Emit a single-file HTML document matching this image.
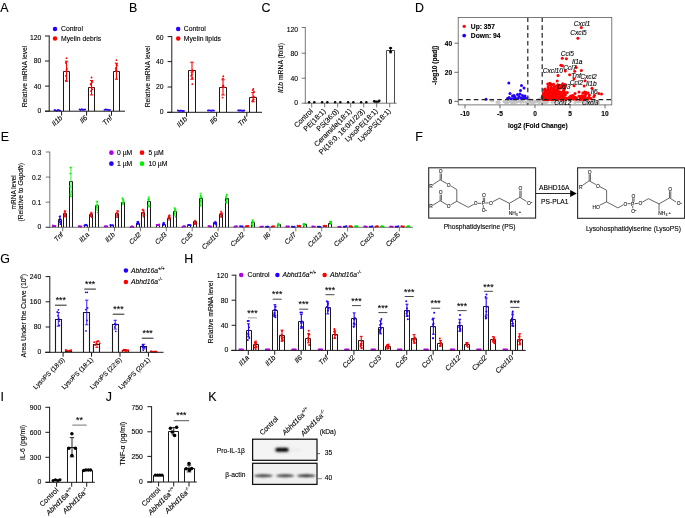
<!DOCTYPE html>
<html lang="en">
<head>
<meta charset="utf-8">
<title>Figure</title>
<style>html,body{margin:0;padding:0;background:#fff}body{width:685px;height:518px;overflow:hidden}svg text{stroke:#000;stroke-width:.14px;stroke-opacity:.8}</style>
</head>
<body>
<svg width="685" height="518" viewBox="0 0 685 518" font-family='"Liberation Sans", sans-serif' style="display:block">
<rect width="685" height="518" fill="#fff"/>
<g>
<text x="0.3" y="12.2" font-size="12.4">A</text>
<circle cx="55" cy="29" r="2.25" fill="#2000ff"/>
<circle cx="55" cy="38.6" r="2.25" fill="#ff0000"/>
<text x="61" y="31.2" font-size="6.8">Control</text>
<text x="61" y="40.8" font-size="6.8">Myelin debris</text>
<text transform="translate(27.4 76.5) rotate(-90)" font-size="6.7" text-anchor="middle" textLength="61.6" lengthAdjust="spacingAndGlyphs">Relative mRNA level</text>
<path d="M63.5 111.2V71.5H69.5V111.2" fill="#fff" stroke="#1a1a1a" stroke-width="1"/>
<line x1="66.55" y1="61.2" x2="66.55" y2="81.2" stroke="#ff0000" stroke-width="1.1"/>
<line x1="64.95" y1="61.2" x2="68.15" y2="61.2" stroke="#ff0000" stroke-width="1.1"/>
<line x1="64.95" y1="81.2" x2="68.15" y2="81.2" stroke="#ff0000" stroke-width="1.1"/>
<line x1="64.85" y1="71.2" x2="68.25" y2="71.2" stroke="#ff0000" stroke-width="1"/>
<circle cx="66.82" cy="68.9" r="0.9" fill="#ff0000"/>
<circle cx="65.78" cy="75.8" r="0.9" fill="#ff0000"/>
<circle cx="65.75" cy="62.83" r="0.9" fill="#ff0000"/>
<circle cx="66.56" cy="69.28" r="0.9" fill="#ff0000"/>
<circle cx="65.78" cy="80.53" r="0.9" fill="#ff0000"/>
<circle cx="66.55" cy="58.2" r="0.9" fill="#ff0000"/>
<circle cx="54.6" cy="109.96" r="0.95" fill="#2000ff"/>
<circle cx="55.7" cy="110.36" r="0.95" fill="#2000ff"/>
<circle cx="56.8" cy="110.84" r="0.95" fill="#2000ff"/>
<circle cx="57.9" cy="110" r="0.95" fill="#2000ff"/>
<circle cx="59" cy="110.12" r="0.95" fill="#2000ff"/>
<circle cx="60.1" cy="110.6" r="0.95" fill="#2000ff"/>
<line x1="61.6" y1="111.2" x2="61.6" y2="115.6" stroke="#1a1a1a" stroke-width="1"/>
<text transform="translate(62.8 118.4) rotate(-45)" font-size="7.2" font-style="italic" text-anchor="end">Il1b</text>
<path d="M88.5 111.2V87.5H94.5V111.2" fill="#fff" stroke="#1a1a1a" stroke-width="1"/>
<line x1="91.55" y1="80.5" x2="91.55" y2="94.9" stroke="#ff0000" stroke-width="1.1"/>
<line x1="89.95" y1="80.5" x2="93.15" y2="80.5" stroke="#ff0000" stroke-width="1.1"/>
<line x1="89.95" y1="94.9" x2="93.15" y2="94.9" stroke="#ff0000" stroke-width="1.1"/>
<line x1="89.85" y1="87.7" x2="93.25" y2="87.7" stroke="#ff0000" stroke-width="1"/>
<circle cx="92.36" cy="89.31" r="0.9" fill="#ff0000"/>
<circle cx="92.41" cy="81.94" r="0.9" fill="#ff0000"/>
<circle cx="90.73" cy="84.67" r="0.9" fill="#ff0000"/>
<circle cx="90.91" cy="91.08" r="0.9" fill="#ff0000"/>
<circle cx="90.86" cy="83.54" r="0.9" fill="#ff0000"/>
<circle cx="91.55" cy="77.5" r="0.9" fill="#ff0000"/>
<circle cx="79.6" cy="109.41" r="0.95" fill="#2000ff"/>
<circle cx="80.7" cy="110.02" r="0.95" fill="#2000ff"/>
<circle cx="81.8" cy="109.25" r="0.95" fill="#2000ff"/>
<circle cx="82.9" cy="109.74" r="0.95" fill="#2000ff"/>
<circle cx="84" cy="109.8" r="0.95" fill="#2000ff"/>
<circle cx="85.1" cy="109.48" r="0.95" fill="#2000ff"/>
<line x1="86.6" y1="111.2" x2="86.6" y2="115.6" stroke="#1a1a1a" stroke-width="1"/>
<text transform="translate(87.8 118.4) rotate(-45)" font-size="7.2" font-style="italic" text-anchor="end">Il6</text>
<path d="M113.5 111.2V71.5H119.5V111.2" fill="#fff" stroke="#1a1a1a" stroke-width="1"/>
<line x1="116.45" y1="63.2" x2="116.45" y2="79.2" stroke="#ff0000" stroke-width="1.1"/>
<line x1="114.85" y1="63.2" x2="118.05" y2="63.2" stroke="#ff0000" stroke-width="1.1"/>
<line x1="114.85" y1="79.2" x2="118.05" y2="79.2" stroke="#ff0000" stroke-width="1.1"/>
<line x1="114.75" y1="71.2" x2="118.15" y2="71.2" stroke="#ff0000" stroke-width="1"/>
<circle cx="115.66" cy="68.72" r="0.9" fill="#ff0000"/>
<circle cx="115.92" cy="70.43" r="0.9" fill="#ff0000"/>
<circle cx="116.12" cy="67.98" r="0.9" fill="#ff0000"/>
<circle cx="116.6" cy="64.31" r="0.9" fill="#ff0000"/>
<circle cx="116.98" cy="65.38" r="0.9" fill="#ff0000"/>
<circle cx="116.45" cy="60.2" r="0.9" fill="#ff0000"/>
<circle cx="104.5" cy="109.88" r="0.95" fill="#2000ff"/>
<circle cx="105.6" cy="109.33" r="0.95" fill="#2000ff"/>
<circle cx="106.7" cy="109.73" r="0.95" fill="#2000ff"/>
<circle cx="107.8" cy="109.67" r="0.95" fill="#2000ff"/>
<circle cx="108.9" cy="110.09" r="0.95" fill="#2000ff"/>
<circle cx="110" cy="109.91" r="0.95" fill="#2000ff"/>
<line x1="111.5" y1="111.2" x2="111.5" y2="115.6" stroke="#1a1a1a" stroke-width="1"/>
<text transform="translate(112.7 118.4) rotate(-45)" font-size="7.2" font-style="italic" text-anchor="end">Tnf</text>
<line x1="45" y1="111.2" x2="125" y2="111.2" stroke="#1a1a1a" stroke-width="1"/>
<line x1="49.2" y1="35.5" x2="49.2" y2="111.7" stroke="#1a1a1a" stroke-width="1"/>
<line x1="45" y1="36" x2="49.2" y2="36" stroke="#1a1a1a" stroke-width="1"/>
<text x="41.4" y="39.65" font-size="6.8" text-anchor="end">120</text>
<line x1="45" y1="61" x2="49.2" y2="61" stroke="#1a1a1a" stroke-width="1"/>
<text x="41.4" y="63.45" font-size="6.8" text-anchor="end">80</text>
<line x1="45" y1="86.1" x2="49.2" y2="86.1" stroke="#1a1a1a" stroke-width="1"/>
<text x="41.4" y="88.55" font-size="6.8" text-anchor="end">40</text>
<line x1="45" y1="111.2" x2="49.2" y2="111.2" stroke="#1a1a1a" stroke-width="1"/>
<text x="41.4" y="112.65" font-size="6.8" text-anchor="end">0</text>
</g>
<g>
<text x="129" y="12.2" font-size="12.4">B</text>
<circle cx="178.2" cy="29" r="2.25" fill="#2000ff"/>
<circle cx="178.2" cy="38.6" r="2.25" fill="#ff0000"/>
<text x="183.8" y="31.2" font-size="6.8">Control</text>
<text x="183.8" y="40.8" font-size="6.8">Myelin lipids</text>
<text transform="translate(150.1 76.5) rotate(-90)" font-size="6.7" text-anchor="middle" textLength="61.6" lengthAdjust="spacingAndGlyphs">Relative mRNA level</text>
<path d="M188.5 112.3V70.5H195.5V112.3" fill="#fff" stroke="#1a1a1a" stroke-width="1"/>
<line x1="192" y1="62.22" x2="192" y2="79.22" stroke="#ff0000" stroke-width="1.1"/>
<line x1="190.3" y1="62.22" x2="193.7" y2="62.22" stroke="#ff0000" stroke-width="1.1"/>
<line x1="190.3" y1="79.22" x2="193.7" y2="79.22" stroke="#ff0000" stroke-width="1.1"/>
<line x1="190.2" y1="70.72" x2="193.8" y2="70.72" stroke="#ff0000" stroke-width="1"/>
<circle cx="191.58" cy="72.59" r="0.9" fill="#ff0000"/>
<circle cx="191.84" cy="74.53" r="0.9" fill="#ff0000"/>
<circle cx="192.51" cy="70.24" r="0.9" fill="#ff0000"/>
<circle cx="191.08" cy="75.84" r="0.9" fill="#ff0000"/>
<circle cx="192.34" cy="77.96" r="0.9" fill="#ff0000"/>
<circle cx="192.75" cy="71.63" r="0.9" fill="#ff0000"/>
<circle cx="192.3" cy="84.22" r="0.9" fill="#ff0000"/>
<circle cx="177.9" cy="110.55" r="0.95" fill="#2000ff"/>
<circle cx="178.9" cy="110.86" r="0.95" fill="#2000ff"/>
<circle cx="179.9" cy="110.78" r="0.95" fill="#2000ff"/>
<circle cx="180.9" cy="110.76" r="0.95" fill="#2000ff"/>
<circle cx="181.9" cy="110.66" r="0.95" fill="#2000ff"/>
<circle cx="182.9" cy="110.97" r="0.95" fill="#2000ff"/>
<circle cx="183.9" cy="111.06" r="0.95" fill="#2000ff"/>
<line x1="186.5" y1="112.3" x2="186.5" y2="116.7" stroke="#1a1a1a" stroke-width="1"/>
<text transform="translate(187.7 119.5) rotate(-45)" font-size="7.2" font-style="italic" text-anchor="end">Il1b</text>
<path d="M219.5 112.3V87.5H226.5V112.3" fill="#fff" stroke="#1a1a1a" stroke-width="1"/>
<line x1="223" y1="79.75" x2="223" y2="94.95" stroke="#ff0000" stroke-width="1.1"/>
<line x1="221.3" y1="79.75" x2="224.7" y2="79.75" stroke="#ff0000" stroke-width="1.1"/>
<line x1="221.3" y1="94.95" x2="224.7" y2="94.95" stroke="#ff0000" stroke-width="1.1"/>
<line x1="221.2" y1="87.35" x2="224.8" y2="87.35" stroke="#ff0000" stroke-width="1"/>
<circle cx="222.95" cy="78.47" r="0.9" fill="#ff0000"/>
<circle cx="223.4" cy="86.11" r="0.9" fill="#ff0000"/>
<circle cx="223.29" cy="85.28" r="0.9" fill="#ff0000"/>
<circle cx="222.57" cy="97.61" r="0.9" fill="#ff0000"/>
<circle cx="222.77" cy="86.8" r="0.9" fill="#ff0000"/>
<circle cx="222.92" cy="86.64" r="0.9" fill="#ff0000"/>
<circle cx="223.3" cy="76.15" r="0.9" fill="#ff0000"/>
<circle cx="208" cy="110.43" r="0.95" fill="#2000ff"/>
<circle cx="209" cy="110.39" r="0.95" fill="#2000ff"/>
<circle cx="210" cy="110.35" r="0.95" fill="#2000ff"/>
<circle cx="211" cy="110.91" r="0.95" fill="#2000ff"/>
<circle cx="212" cy="110.4" r="0.95" fill="#2000ff"/>
<circle cx="213" cy="110.5" r="0.95" fill="#2000ff"/>
<circle cx="214" cy="110.61" r="0.95" fill="#2000ff"/>
<line x1="216.6" y1="112.3" x2="216.6" y2="116.7" stroke="#1a1a1a" stroke-width="1"/>
<text transform="translate(217.8 119.5) rotate(-45)" font-size="7.2" font-style="italic" text-anchor="end">Il6</text>
<path d="M249.5 112.3V97.5H256.5V112.3" fill="#fff" stroke="#1a1a1a" stroke-width="1"/>
<line x1="253" y1="92.58" x2="253" y2="101.78" stroke="#ff0000" stroke-width="1.1"/>
<line x1="251.3" y1="92.58" x2="254.7" y2="92.58" stroke="#ff0000" stroke-width="1.1"/>
<line x1="251.3" y1="101.78" x2="254.7" y2="101.78" stroke="#ff0000" stroke-width="1.1"/>
<line x1="251.2" y1="97.18" x2="254.8" y2="97.18" stroke="#ff0000" stroke-width="1"/>
<circle cx="253.74" cy="96.41" r="0.9" fill="#ff0000"/>
<circle cx="253.1" cy="101.13" r="0.9" fill="#ff0000"/>
<circle cx="253.77" cy="99.37" r="0.9" fill="#ff0000"/>
<circle cx="252.56" cy="100.67" r="0.9" fill="#ff0000"/>
<circle cx="252.83" cy="90.14" r="0.9" fill="#ff0000"/>
<circle cx="253.92" cy="91.75" r="0.9" fill="#ff0000"/>
<circle cx="253.3" cy="88.98" r="0.9" fill="#ff0000"/>
<circle cx="238.2" cy="110.42" r="0.95" fill="#2000ff"/>
<circle cx="239.2" cy="110.44" r="0.95" fill="#2000ff"/>
<circle cx="240.2" cy="110.49" r="0.95" fill="#2000ff"/>
<circle cx="241.2" cy="110.49" r="0.95" fill="#2000ff"/>
<circle cx="242.2" cy="110.69" r="0.95" fill="#2000ff"/>
<circle cx="243.2" cy="110.77" r="0.95" fill="#2000ff"/>
<circle cx="244.2" cy="110.51" r="0.95" fill="#2000ff"/>
<line x1="246.8" y1="112.3" x2="246.8" y2="116.7" stroke="#1a1a1a" stroke-width="1"/>
<text transform="translate(248 119.5) rotate(-45)" font-size="7.2" font-style="italic" text-anchor="end">Tnf</text>
<line x1="167" y1="112.3" x2="262" y2="112.3" stroke="#1a1a1a" stroke-width="1"/>
<line x1="171.8" y1="36.1" x2="171.8" y2="112.8" stroke="#1a1a1a" stroke-width="1"/>
<line x1="167.6" y1="36.6" x2="171.8" y2="36.6" stroke="#1a1a1a" stroke-width="1"/>
<text x="163.6" y="39.65" font-size="6.8" text-anchor="end">60</text>
<line x1="167.6" y1="61.6" x2="171.8" y2="61.6" stroke="#1a1a1a" stroke-width="1"/>
<text x="163.6" y="64.05" font-size="6.8" text-anchor="end">40</text>
<line x1="167.6" y1="87" x2="171.8" y2="87" stroke="#1a1a1a" stroke-width="1"/>
<text x="163.6" y="89.45" font-size="6.8" text-anchor="end">20</text>
<line x1="167.6" y1="112.3" x2="171.8" y2="112.3" stroke="#1a1a1a" stroke-width="1"/>
<text x="163.6" y="113.75" font-size="6.8" text-anchor="end">0</text>
</g>
<g>
<text x="261.6" y="12.2" font-size="12.4">C</text>
<line x1="311.7" y1="103.2" x2="311.7" y2="107.4" stroke="#3c3c3c" stroke-width="0.7"/>
<text transform="translate(313.3 111.6) rotate(-45)" font-size="7.2" text-anchor="end">Control</text>
<circle cx="309.1" cy="102.2" r="1.25" fill="#000"/>
<circle cx="314.3" cy="102.2" r="1.25" fill="#000"/>
<line x1="324.7" y1="103.2" x2="324.7" y2="107.4" stroke="#3c3c3c" stroke-width="0.7"/>
<text transform="translate(326.3 111.6) rotate(-45)" font-size="7.2" text-anchor="end">PE(18:1)</text>
<circle cx="322.1" cy="102.2" r="1.25" fill="#000"/>
<circle cx="327.3" cy="102.2" r="1.25" fill="#000"/>
<line x1="337.7" y1="103.2" x2="337.7" y2="107.4" stroke="#3c3c3c" stroke-width="0.7"/>
<text transform="translate(339.3 111.6) rotate(-45)" font-size="7.2" text-anchor="end">PS(36:0)</text>
<circle cx="335.1" cy="102.2" r="1.25" fill="#000"/>
<circle cx="340.3" cy="102.2" r="1.25" fill="#000"/>
<line x1="350.7" y1="103.2" x2="350.7" y2="107.4" stroke="#3c3c3c" stroke-width="0.7"/>
<text transform="translate(352.3 111.6) rotate(-45)" font-size="7.2" text-anchor="end">Ceramide(18:1)</text>
<circle cx="348.1" cy="102.2" r="1.25" fill="#000"/>
<circle cx="353.3" cy="102.2" r="1.25" fill="#000"/>
<line x1="363.7" y1="103.2" x2="363.7" y2="107.4" stroke="#3c3c3c" stroke-width="0.7"/>
<text transform="translate(365.3 111.6) rotate(-45)" font-size="7.2" text-anchor="end">PI(16:0, 18:0/1/2/3)</text>
<circle cx="361.1" cy="102.2" r="1.25" fill="#000"/>
<circle cx="366.3" cy="102.2" r="1.25" fill="#000"/>
<line x1="376.7" y1="103.2" x2="376.7" y2="107.4" stroke="#3c3c3c" stroke-width="0.7"/>
<text transform="translate(378.3 111.6) rotate(-45)" font-size="7.2" text-anchor="end">LysoPE(18:1)</text>
<circle cx="374.1" cy="101.2" r="1.25" fill="#000"/>
<circle cx="379.3" cy="100.7" r="1.25" fill="#000"/>
<rect x="374.1" y="100.6" width="5.2" height="2.2" fill="#000" stroke="none" stroke-width="0"/>
<line x1="389.7" y1="103.2" x2="389.7" y2="107.4" stroke="#3c3c3c" stroke-width="0.7"/>
<text transform="translate(391.3 111.6) rotate(-45)" font-size="7.2" text-anchor="end">LysoPS(18:1)</text>
<path d="M386.5 103.2V50.5H394.5V103.2" fill="#fff" stroke="#4a4a4a" stroke-width="1"/>
<line x1="390.6" y1="47.6" x2="390.6" y2="52.8" stroke="#000" stroke-width="0.9"/>
<line x1="389.1" y1="47.6" x2="392.1" y2="47.6" stroke="#000" stroke-width="0.9"/>
<line x1="389.1" y1="52.8" x2="392.1" y2="52.8" stroke="#000" stroke-width="0.9"/>
<path d="M390.6 46.4l1.8 2.6h-3.6z M390.6 53.6l1.8 -2.6h-3.6z" fill="#000"/>
<line x1="304.8" y1="103.2" x2="396.6" y2="103.2" stroke="#3c3c3c" stroke-width="0.7"/>
<line x1="305.3" y1="27.15" x2="305.3" y2="103.55" stroke="#3c3c3c" stroke-width="0.7"/>
<line x1="301.7" y1="27.5" x2="305.3" y2="27.5" stroke="#3c3c3c" stroke-width="0.7"/>
<text x="298.1" y="32.15" font-size="6.8" text-anchor="end">120</text>
<line x1="301.7" y1="53.2" x2="305.3" y2="53.2" stroke="#3c3c3c" stroke-width="0.7"/>
<text x="298.1" y="55.65" font-size="6.8" text-anchor="end">80</text>
<line x1="301.7" y1="78.2" x2="305.3" y2="78.2" stroke="#3c3c3c" stroke-width="0.7"/>
<text x="298.1" y="80.65" font-size="6.8" text-anchor="end">40</text>
<line x1="301.7" y1="103.2" x2="305.3" y2="103.2" stroke="#3c3c3c" stroke-width="0.7"/>
<text x="298.1" y="105.25" font-size="6.8" text-anchor="end">0</text>
<text transform="translate(283 68) rotate(-90)" font-size="6.7" text-anchor="middle" textLength="49.8" lengthAdjust="spacingAndGlyphs"><tspan font-style="italic">Il1b</tspan> mRNA (fold)</text>
</g>
<g>
<text x="415" y="12.2" font-size="12.4">D</text>
<circle cx="523" cy="102.08" r="1.5" fill="#c4c4c4"/>
<circle cx="592.72" cy="101.95" r="1.5" fill="#c4c4c4"/>
<circle cx="552.75" cy="102.12" r="1.5" fill="#c4c4c4"/>
<circle cx="511.76" cy="102.02" r="1.5" fill="#c4c4c4"/>
<circle cx="564.47" cy="102.41" r="1.5" fill="#c4c4c4"/>
<circle cx="513.04" cy="101.72" r="1.5" fill="#c4c4c4"/>
<circle cx="507.81" cy="102.43" r="1.5" fill="#c4c4c4"/>
<circle cx="570.57" cy="101.36" r="1.5" fill="#c4c4c4"/>
<circle cx="598.29" cy="102.65" r="1.5" fill="#c4c4c4"/>
<circle cx="531.46" cy="102.16" r="1.5" fill="#c4c4c4"/>
<circle cx="519.12" cy="101.32" r="1.5" fill="#c4c4c4"/>
<circle cx="554.72" cy="101.38" r="1.5" fill="#c4c4c4"/>
<circle cx="511.99" cy="101.64" r="1.5" fill="#c4c4c4"/>
<circle cx="506.89" cy="101.95" r="1.5" fill="#c4c4c4"/>
<circle cx="546.29" cy="102.48" r="1.5" fill="#c4c4c4"/>
<circle cx="525.8" cy="102.2" r="1.5" fill="#c4c4c4"/>
<circle cx="551.98" cy="102.23" r="1.5" fill="#c4c4c4"/>
<circle cx="547.9" cy="101.69" r="1.5" fill="#c4c4c4"/>
<circle cx="545.9" cy="102.69" r="1.5" fill="#c4c4c4"/>
<circle cx="584.66" cy="102.29" r="1.5" fill="#c4c4c4"/>
<circle cx="534.27" cy="101.62" r="1.5" fill="#c4c4c4"/>
<circle cx="516.14" cy="101.4" r="1.5" fill="#c4c4c4"/>
<circle cx="577.56" cy="101.86" r="1.5" fill="#c4c4c4"/>
<circle cx="585.27" cy="101.84" r="1.5" fill="#c4c4c4"/>
<circle cx="544.24" cy="102.49" r="1.5" fill="#c4c4c4"/>
<circle cx="504.05" cy="101.59" r="1.5" fill="#c4c4c4"/>
<circle cx="591.39" cy="101.96" r="1.5" fill="#c4c4c4"/>
<circle cx="545.18" cy="101.86" r="1.5" fill="#c4c4c4"/>
<circle cx="511.01" cy="102.18" r="1.5" fill="#c4c4c4"/>
<circle cx="578.74" cy="101.68" r="1.5" fill="#c4c4c4"/>
<circle cx="507.66" cy="101.77" r="1.5" fill="#c4c4c4"/>
<circle cx="596.55" cy="102.36" r="1.5" fill="#c4c4c4"/>
<circle cx="515.33" cy="101.64" r="1.5" fill="#c4c4c4"/>
<circle cx="508.24" cy="101.38" r="1.5" fill="#c4c4c4"/>
<circle cx="580.51" cy="101.55" r="1.5" fill="#c4c4c4"/>
<circle cx="557.69" cy="101.93" r="1.5" fill="#c4c4c4"/>
<circle cx="512.01" cy="102.32" r="1.5" fill="#c4c4c4"/>
<circle cx="516.57" cy="102.2" r="1.5" fill="#c4c4c4"/>
<circle cx="515.18" cy="101.89" r="1.5" fill="#c4c4c4"/>
<circle cx="512.94" cy="101.68" r="1.5" fill="#c4c4c4"/>
<circle cx="597.21" cy="102.42" r="1.5" fill="#c4c4c4"/>
<circle cx="533.2" cy="102.54" r="1.5" fill="#c4c4c4"/>
<circle cx="512.85" cy="101.85" r="1.5" fill="#c4c4c4"/>
<circle cx="586.02" cy="102.2" r="1.5" fill="#c4c4c4"/>
<circle cx="513.63" cy="102.69" r="1.5" fill="#c4c4c4"/>
<circle cx="512.96" cy="101.66" r="1.5" fill="#c4c4c4"/>
<circle cx="578.18" cy="101.76" r="1.5" fill="#c4c4c4"/>
<circle cx="532.45" cy="101.4" r="1.5" fill="#c4c4c4"/>
<circle cx="507.78" cy="102.12" r="1.5" fill="#c4c4c4"/>
<circle cx="527.33" cy="102.14" r="1.5" fill="#c4c4c4"/>
<circle cx="539.68" cy="101.93" r="1.5" fill="#c4c4c4"/>
<circle cx="544.28" cy="101.98" r="1.5" fill="#c4c4c4"/>
<circle cx="559.16" cy="102.51" r="1.5" fill="#c4c4c4"/>
<circle cx="521.55" cy="101.52" r="1.5" fill="#c4c4c4"/>
<circle cx="542.15" cy="102.44" r="1.5" fill="#c4c4c4"/>
<circle cx="527.95" cy="101.57" r="1.5" fill="#c4c4c4"/>
<circle cx="574.98" cy="102.62" r="1.5" fill="#c4c4c4"/>
<circle cx="512.26" cy="102.63" r="1.5" fill="#c4c4c4"/>
<circle cx="588.69" cy="102.14" r="1.5" fill="#c4c4c4"/>
<circle cx="544.46" cy="101.45" r="1.5" fill="#c4c4c4"/>
<circle cx="505.63" cy="102.65" r="1.5" fill="#c4c4c4"/>
<circle cx="526.89" cy="102.29" r="1.5" fill="#c4c4c4"/>
<circle cx="528.67" cy="102.45" r="1.5" fill="#c4c4c4"/>
<circle cx="529.05" cy="101.71" r="1.5" fill="#c4c4c4"/>
<circle cx="520.84" cy="102.31" r="1.5" fill="#c4c4c4"/>
<circle cx="510.6" cy="101.62" r="1.5" fill="#c4c4c4"/>
<circle cx="527.49" cy="102.49" r="1.5" fill="#c4c4c4"/>
<circle cx="562.97" cy="101.69" r="1.5" fill="#c4c4c4"/>
<circle cx="592.07" cy="101.59" r="1.5" fill="#c4c4c4"/>
<circle cx="504.7" cy="101.68" r="1.5" fill="#c4c4c4"/>
<circle cx="546.79" cy="101.38" r="1.5" fill="#c4c4c4"/>
<circle cx="520.92" cy="101.82" r="1.5" fill="#c4c4c4"/>
<circle cx="528.03" cy="101.48" r="1.5" fill="#c4c4c4"/>
<circle cx="538.77" cy="102.55" r="1.5" fill="#c4c4c4"/>
<circle cx="598.13" cy="102.22" r="1.5" fill="#c4c4c4"/>
<circle cx="537.68" cy="100.89" r="1.5" fill="#c4c4c4"/>
<circle cx="529.96" cy="101.88" r="1.5" fill="#c4c4c4"/>
<circle cx="528.25" cy="97.66" r="1.5" fill="#c4c4c4"/>
<circle cx="537.81" cy="100.09" r="1.5" fill="#c4c4c4"/>
<circle cx="528.3" cy="98.99" r="1.5" fill="#c4c4c4"/>
<circle cx="534.75" cy="101.87" r="1.5" fill="#c4c4c4"/>
<circle cx="532.46" cy="100.21" r="1.5" fill="#c4c4c4"/>
<circle cx="529.05" cy="99.71" r="1.5" fill="#c4c4c4"/>
<circle cx="538.32" cy="99.89" r="1.5" fill="#c4c4c4"/>
<circle cx="538.32" cy="100.35" r="1.5" fill="#c4c4c4"/>
<circle cx="539.11" cy="99.35" r="1.5" fill="#c4c4c4"/>
<circle cx="532.93" cy="101" r="1.5" fill="#c4c4c4"/>
<circle cx="540.61" cy="98.55" r="1.5" fill="#c4c4c4"/>
<circle cx="533.84" cy="101.35" r="1.5" fill="#c4c4c4"/>
<circle cx="540.09" cy="99.94" r="1.5" fill="#c4c4c4"/>
<circle cx="536.75" cy="101.53" r="1.5" fill="#c4c4c4"/>
<circle cx="536.16" cy="101.5" r="1.5" fill="#c4c4c4"/>
<circle cx="529.12" cy="99.34" r="1.5" fill="#c4c4c4"/>
<circle cx="541.91" cy="97.71" r="1.5" fill="#c4c4c4"/>
<circle cx="538.19" cy="101.12" r="1.5" fill="#c4c4c4"/>
<circle cx="538.29" cy="100.65" r="1.5" fill="#c4c4c4"/>
<circle cx="534.17" cy="101.51" r="1.5" fill="#c4c4c4"/>
<circle cx="529.17" cy="98.91" r="1.5" fill="#c4c4c4"/>
<circle cx="528.42" cy="99.2" r="1.5" fill="#c4c4c4"/>
<circle cx="534.73" cy="101.96" r="1.5" fill="#c4c4c4"/>
<circle cx="537.78" cy="101.02" r="1.5" fill="#c4c4c4"/>
<circle cx="536.6" cy="100.96" r="1.5" fill="#c4c4c4"/>
<circle cx="531.58" cy="101.97" r="1.5" fill="#c4c4c4"/>
<circle cx="532.21" cy="100.67" r="1.5" fill="#c4c4c4"/>
<circle cx="530.84" cy="101.5" r="1.5" fill="#c4c4c4"/>
<circle cx="540.68" cy="99.35" r="1.5" fill="#c4c4c4"/>
<circle cx="534.19" cy="101.49" r="1.5" fill="#c4c4c4"/>
<circle cx="532.58" cy="100.86" r="1.5" fill="#c4c4c4"/>
<circle cx="530.78" cy="100.71" r="1.5" fill="#c4c4c4"/>
<circle cx="539.28" cy="99.23" r="1.5" fill="#c4c4c4"/>
<circle cx="540.32" cy="100.55" r="1.5" fill="#c4c4c4"/>
<circle cx="536.16" cy="101.74" r="1.5" fill="#c4c4c4"/>
<circle cx="529.91" cy="100.21" r="1.5" fill="#c4c4c4"/>
<circle cx="539.72" cy="99.17" r="1.5" fill="#c4c4c4"/>
<circle cx="537.96" cy="100.01" r="1.5" fill="#c4c4c4"/>
<circle cx="531.88" cy="101.63" r="1.5" fill="#c4c4c4"/>
<circle cx="534.31" cy="101.87" r="1.5" fill="#c4c4c4"/>
<circle cx="531" cy="100.83" r="1.5" fill="#c4c4c4"/>
<circle cx="536.76" cy="101.39" r="1.5" fill="#c4c4c4"/>
<circle cx="532.42" cy="100.47" r="1.5" fill="#c4c4c4"/>
<circle cx="491.2" cy="100.3" r="1.5" fill="#c4c4c4"/>
<circle cx="492.8" cy="100.6" r="1.5" fill="#c4c4c4"/>
<circle cx="497" cy="102.2" r="1.5" fill="#c4c4c4"/>
<circle cx="499" cy="102.6" r="1.5" fill="#c4c4c4"/>
<circle cx="508.8" cy="83" r="1.5" fill="#2000ff"/>
<circle cx="521.5" cy="85.5" r="1.5" fill="#2000ff"/>
<circle cx="524" cy="88" r="1.5" fill="#2000ff"/>
<circle cx="520.5" cy="90.5" r="1.5" fill="#2000ff"/>
<circle cx="486" cy="99.3" r="1.5" fill="#2000ff"/>
<circle cx="510" cy="93.5" r="1.5" fill="#2000ff"/>
<circle cx="512.5" cy="96" r="1.5" fill="#2000ff"/>
<circle cx="509" cy="97.5" r="1.5" fill="#2000ff"/>
<circle cx="515" cy="97" r="1.5" fill="#2000ff"/>
<circle cx="517.5" cy="94.5" r="1.5" fill="#2000ff"/>
<circle cx="519" cy="96.5" r="1.5" fill="#2000ff"/>
<circle cx="521" cy="98" r="1.5" fill="#2000ff"/>
<circle cx="522.5" cy="95.5" r="1.5" fill="#2000ff"/>
<circle cx="524.5" cy="97" r="1.5" fill="#2000ff"/>
<circle cx="526" cy="98.3" r="1.5" fill="#2000ff"/>
<circle cx="513.5" cy="98.4" r="1.5" fill="#2000ff"/>
<circle cx="511" cy="98.8" r="1.5" fill="#2000ff"/>
<circle cx="518" cy="98.6" r="1.5" fill="#2000ff"/>
<circle cx="520" cy="94" r="1.5" fill="#2000ff"/>
<circle cx="523" cy="98.5" r="1.5" fill="#2000ff"/>
<circle cx="516" cy="98.8" r="1.5" fill="#2000ff"/>
<circle cx="507.5" cy="98.6" r="1.5" fill="#2000ff"/>
<circle cx="525" cy="96" r="1.5" fill="#2000ff"/>
<circle cx="514" cy="95.5" r="1.5" fill="#2000ff"/>
<circle cx="576.19" cy="99.31" r="1.5" fill="#ff0000"/>
<circle cx="562.16" cy="99.25" r="1.5" fill="#ff0000"/>
<circle cx="549.14" cy="89.93" r="1.5" fill="#ff0000"/>
<circle cx="552.51" cy="99.36" r="1.5" fill="#ff0000"/>
<circle cx="545.25" cy="99.21" r="1.5" fill="#ff0000"/>
<circle cx="556.55" cy="93" r="1.5" fill="#ff0000"/>
<circle cx="581.87" cy="98.93" r="1.5" fill="#ff0000"/>
<circle cx="546.13" cy="99.44" r="1.5" fill="#ff0000"/>
<circle cx="544.89" cy="98.27" r="1.5" fill="#ff0000"/>
<circle cx="548.04" cy="97.37" r="1.5" fill="#ff0000"/>
<circle cx="559.47" cy="96.45" r="1.5" fill="#ff0000"/>
<circle cx="567.24" cy="92.44" r="1.5" fill="#ff0000"/>
<circle cx="548.33" cy="96.65" r="1.5" fill="#ff0000"/>
<circle cx="574.33" cy="97.31" r="1.5" fill="#ff0000"/>
<circle cx="584.62" cy="92.09" r="1.5" fill="#ff0000"/>
<circle cx="557.05" cy="98.11" r="1.5" fill="#ff0000"/>
<circle cx="580.82" cy="96.2" r="1.5" fill="#ff0000"/>
<circle cx="562.79" cy="83.86" r="1.5" fill="#ff0000"/>
<circle cx="560.27" cy="97.15" r="1.5" fill="#ff0000"/>
<circle cx="573.64" cy="99.28" r="1.5" fill="#ff0000"/>
<circle cx="554.71" cy="90.57" r="1.5" fill="#ff0000"/>
<circle cx="560.69" cy="99.1" r="1.5" fill="#ff0000"/>
<circle cx="549.74" cy="90.03" r="1.5" fill="#ff0000"/>
<circle cx="553.93" cy="91.65" r="1.5" fill="#ff0000"/>
<circle cx="548.73" cy="91.03" r="1.5" fill="#ff0000"/>
<circle cx="563.93" cy="98.96" r="1.5" fill="#ff0000"/>
<circle cx="548.7" cy="91.53" r="1.5" fill="#ff0000"/>
<circle cx="561.49" cy="94.49" r="1.5" fill="#ff0000"/>
<circle cx="561.53" cy="86.1" r="1.5" fill="#ff0000"/>
<circle cx="588.83" cy="97.56" r="1.5" fill="#ff0000"/>
<circle cx="546.64" cy="94.82" r="1.5" fill="#ff0000"/>
<circle cx="542.64" cy="95.9" r="1.5" fill="#ff0000"/>
<circle cx="560.5" cy="94.45" r="1.5" fill="#ff0000"/>
<circle cx="551.57" cy="97.95" r="1.5" fill="#ff0000"/>
<circle cx="587.72" cy="98.69" r="1.5" fill="#ff0000"/>
<circle cx="544.93" cy="96.03" r="1.5" fill="#ff0000"/>
<circle cx="576.78" cy="98.51" r="1.5" fill="#ff0000"/>
<circle cx="556.27" cy="86.33" r="1.5" fill="#ff0000"/>
<circle cx="546.2" cy="99.44" r="1.5" fill="#ff0000"/>
<circle cx="547.25" cy="92.41" r="1.5" fill="#ff0000"/>
<circle cx="556.32" cy="98.83" r="1.5" fill="#ff0000"/>
<circle cx="553.79" cy="97.75" r="1.5" fill="#ff0000"/>
<circle cx="552.09" cy="96.63" r="1.5" fill="#ff0000"/>
<circle cx="545.69" cy="98.11" r="1.5" fill="#ff0000"/>
<circle cx="558.12" cy="96.76" r="1.5" fill="#ff0000"/>
<circle cx="570.8" cy="95.97" r="1.5" fill="#ff0000"/>
<circle cx="587.22" cy="98.51" r="1.5" fill="#ff0000"/>
<circle cx="563.32" cy="98" r="1.5" fill="#ff0000"/>
<circle cx="568.38" cy="98.79" r="1.5" fill="#ff0000"/>
<circle cx="545.03" cy="98.63" r="1.5" fill="#ff0000"/>
<circle cx="561.22" cy="96.16" r="1.5" fill="#ff0000"/>
<circle cx="551.3" cy="92.45" r="1.5" fill="#ff0000"/>
<circle cx="557.76" cy="84.7" r="1.5" fill="#ff0000"/>
<circle cx="553.68" cy="90.83" r="1.5" fill="#ff0000"/>
<circle cx="543.2" cy="99.18" r="1.5" fill="#ff0000"/>
<circle cx="554.74" cy="95.09" r="1.5" fill="#ff0000"/>
<circle cx="546.26" cy="98.11" r="1.5" fill="#ff0000"/>
<circle cx="587.81" cy="99.25" r="1.5" fill="#ff0000"/>
<circle cx="563.98" cy="95.72" r="1.5" fill="#ff0000"/>
<circle cx="552.79" cy="95.08" r="1.5" fill="#ff0000"/>
<circle cx="542.31" cy="96.87" r="1.5" fill="#ff0000"/>
<circle cx="552.49" cy="91.29" r="1.5" fill="#ff0000"/>
<circle cx="545.81" cy="95.12" r="1.5" fill="#ff0000"/>
<circle cx="584.74" cy="96.31" r="1.5" fill="#ff0000"/>
<circle cx="580.52" cy="98.15" r="1.5" fill="#ff0000"/>
<circle cx="553.65" cy="84.36" r="1.5" fill="#ff0000"/>
<circle cx="563.05" cy="91.17" r="1.5" fill="#ff0000"/>
<circle cx="575.04" cy="93.57" r="1.5" fill="#ff0000"/>
<circle cx="582.12" cy="95.69" r="1.5" fill="#ff0000"/>
<circle cx="544.98" cy="97.99" r="1.5" fill="#ff0000"/>
<circle cx="548.94" cy="97.67" r="1.5" fill="#ff0000"/>
<circle cx="550.22" cy="93.29" r="1.5" fill="#ff0000"/>
<circle cx="563.82" cy="92.81" r="1.5" fill="#ff0000"/>
<circle cx="545.29" cy="97.06" r="1.5" fill="#ff0000"/>
<circle cx="551" cy="84.84" r="1.5" fill="#ff0000"/>
<circle cx="543.73" cy="99.44" r="1.5" fill="#ff0000"/>
<circle cx="559.07" cy="97.7" r="1.5" fill="#ff0000"/>
<circle cx="546.51" cy="96.63" r="1.5" fill="#ff0000"/>
<circle cx="562.92" cy="94.63" r="1.5" fill="#ff0000"/>
<circle cx="579.02" cy="92.09" r="1.5" fill="#ff0000"/>
<circle cx="565.45" cy="94.68" r="1.5" fill="#ff0000"/>
<circle cx="555.8" cy="90.81" r="1.5" fill="#ff0000"/>
<circle cx="569.02" cy="97.84" r="1.5" fill="#ff0000"/>
<circle cx="553.45" cy="93.74" r="1.5" fill="#ff0000"/>
<circle cx="575.41" cy="97.55" r="1.5" fill="#ff0000"/>
<circle cx="550.44" cy="97.45" r="1.5" fill="#ff0000"/>
<circle cx="548.55" cy="91.8" r="1.5" fill="#ff0000"/>
<circle cx="547.66" cy="99.24" r="1.5" fill="#ff0000"/>
<circle cx="555.81" cy="95.49" r="1.5" fill="#ff0000"/>
<circle cx="564.84" cy="86.49" r="1.5" fill="#ff0000"/>
<circle cx="575.62" cy="97.81" r="1.5" fill="#ff0000"/>
<circle cx="571.07" cy="97.57" r="1.5" fill="#ff0000"/>
<circle cx="582.81" cy="97.85" r="1.5" fill="#ff0000"/>
<circle cx="585.11" cy="97.08" r="1.5" fill="#ff0000"/>
<circle cx="556.42" cy="95.79" r="1.5" fill="#ff0000"/>
<circle cx="554.2" cy="98.7" r="1.5" fill="#ff0000"/>
<circle cx="553.43" cy="97.74" r="1.5" fill="#ff0000"/>
<circle cx="555.45" cy="96.18" r="1.5" fill="#ff0000"/>
<circle cx="565.05" cy="84.57" r="1.5" fill="#ff0000"/>
<circle cx="544.63" cy="90.11" r="1.5" fill="#ff0000"/>
<circle cx="546.24" cy="96.15" r="1.5" fill="#ff0000"/>
<circle cx="555.67" cy="93.38" r="1.5" fill="#ff0000"/>
<circle cx="547.75" cy="84.04" r="1.5" fill="#ff0000"/>
<circle cx="566.07" cy="99.34" r="1.5" fill="#ff0000"/>
<circle cx="551.82" cy="93.54" r="1.5" fill="#ff0000"/>
<circle cx="543.67" cy="98.96" r="1.5" fill="#ff0000"/>
<circle cx="556.58" cy="96.65" r="1.5" fill="#ff0000"/>
<circle cx="549.94" cy="91.16" r="1.5" fill="#ff0000"/>
<circle cx="544.77" cy="89.71" r="1.5" fill="#ff0000"/>
<circle cx="547.17" cy="98.81" r="1.5" fill="#ff0000"/>
<circle cx="547.96" cy="89.36" r="1.5" fill="#ff0000"/>
<circle cx="549.44" cy="97.19" r="1.5" fill="#ff0000"/>
<circle cx="542.51" cy="96.29" r="1.5" fill="#ff0000"/>
<circle cx="550.53" cy="98.88" r="1.5" fill="#ff0000"/>
<circle cx="543.92" cy="94.43" r="1.5" fill="#ff0000"/>
<circle cx="546.39" cy="99.28" r="1.5" fill="#ff0000"/>
<circle cx="557.29" cy="98.99" r="1.5" fill="#ff0000"/>
<circle cx="555.84" cy="96.06" r="1.5" fill="#ff0000"/>
<circle cx="545.3" cy="96.8" r="1.5" fill="#ff0000"/>
<circle cx="544.71" cy="91.96" r="1.5" fill="#ff0000"/>
<circle cx="588.13" cy="93.1" r="1.5" fill="#ff0000"/>
<circle cx="560.55" cy="97.29" r="1.5" fill="#ff0000"/>
<circle cx="563.59" cy="85.98" r="1.5" fill="#ff0000"/>
<circle cx="550.44" cy="96.75" r="1.5" fill="#ff0000"/>
<circle cx="546.5" cy="94.44" r="1.5" fill="#ff0000"/>
<circle cx="561.32" cy="94.45" r="1.5" fill="#ff0000"/>
<circle cx="547" cy="99.44" r="1.5" fill="#ff0000"/>
<circle cx="554.57" cy="94.39" r="1.5" fill="#ff0000"/>
<circle cx="546.65" cy="94.76" r="1.5" fill="#ff0000"/>
<circle cx="554.63" cy="90.03" r="1.5" fill="#ff0000"/>
<circle cx="559.03" cy="86.46" r="1.5" fill="#ff0000"/>
<circle cx="550.6" cy="96.46" r="1.5" fill="#ff0000"/>
<circle cx="547.09" cy="90.65" r="1.5" fill="#ff0000"/>
<circle cx="552.92" cy="98.05" r="1.5" fill="#ff0000"/>
<circle cx="564.37" cy="92.69" r="1.5" fill="#ff0000"/>
<circle cx="558.65" cy="91.98" r="1.5" fill="#ff0000"/>
<circle cx="561.09" cy="92.79" r="1.5" fill="#ff0000"/>
<circle cx="585.53" cy="93.76" r="1.5" fill="#ff0000"/>
<circle cx="580.79" cy="97.57" r="1.5" fill="#ff0000"/>
<circle cx="544.83" cy="97.92" r="1.5" fill="#ff0000"/>
<circle cx="559.12" cy="85.61" r="1.5" fill="#ff0000"/>
<circle cx="546.72" cy="96.13" r="1.5" fill="#ff0000"/>
<circle cx="566.55" cy="98.54" r="1.5" fill="#ff0000"/>
<circle cx="556.97" cy="90.37" r="1.5" fill="#ff0000"/>
<circle cx="552.6" cy="94.15" r="1.5" fill="#ff0000"/>
<circle cx="544.51" cy="98.26" r="1.5" fill="#ff0000"/>
<circle cx="558.57" cy="93.99" r="1.5" fill="#ff0000"/>
<circle cx="548.49" cy="98.35" r="1.5" fill="#ff0000"/>
<circle cx="554.66" cy="89.13" r="1.5" fill="#ff0000"/>
<circle cx="562.5" cy="85.71" r="1.5" fill="#ff0000"/>
<circle cx="564.11" cy="95.48" r="1.5" fill="#ff0000"/>
<circle cx="563.89" cy="89.63" r="1.5" fill="#ff0000"/>
<circle cx="553.92" cy="97.55" r="1.5" fill="#ff0000"/>
<circle cx="550.32" cy="98.72" r="1.5" fill="#ff0000"/>
<circle cx="552.92" cy="96.67" r="1.5" fill="#ff0000"/>
<circle cx="545.86" cy="99.01" r="1.5" fill="#ff0000"/>
<circle cx="547.99" cy="87.08" r="1.5" fill="#ff0000"/>
<circle cx="545.04" cy="88.92" r="1.5" fill="#ff0000"/>
<circle cx="554.35" cy="98.51" r="1.5" fill="#ff0000"/>
<circle cx="560.97" cy="88.07" r="1.5" fill="#ff0000"/>
<circle cx="548.24" cy="91.8" r="1.5" fill="#ff0000"/>
<circle cx="552.83" cy="85" r="1.5" fill="#ff0000"/>
<circle cx="572.54" cy="95.43" r="1.5" fill="#ff0000"/>
<circle cx="563.18" cy="98.93" r="1.5" fill="#ff0000"/>
<circle cx="554.55" cy="94.95" r="1.5" fill="#ff0000"/>
<circle cx="572.73" cy="98.53" r="1.5" fill="#ff0000"/>
<circle cx="549.06" cy="95.66" r="1.5" fill="#ff0000"/>
<circle cx="557.87" cy="98.83" r="1.5" fill="#ff0000"/>
<circle cx="564.34" cy="88.69" r="1.5" fill="#ff0000"/>
<circle cx="550.71" cy="91.94" r="1.5" fill="#ff0000"/>
<circle cx="552.58" cy="99.44" r="1.5" fill="#ff0000"/>
<circle cx="545.12" cy="98.51" r="1.5" fill="#ff0000"/>
<circle cx="554.47" cy="97.34" r="1.5" fill="#ff0000"/>
<circle cx="557.4" cy="97.7" r="1.5" fill="#ff0000"/>
<circle cx="553.2" cy="98.35" r="1.5" fill="#ff0000"/>
<circle cx="578.89" cy="96.14" r="1.5" fill="#ff0000"/>
<circle cx="561.1" cy="98.92" r="1.5" fill="#ff0000"/>
<circle cx="557.65" cy="91.98" r="1.5" fill="#ff0000"/>
<circle cx="561.33" cy="94.02" r="1.5" fill="#ff0000"/>
<circle cx="545.63" cy="98.7" r="1.5" fill="#ff0000"/>
<circle cx="563.27" cy="96.11" r="1.5" fill="#ff0000"/>
<circle cx="543.65" cy="98.09" r="1.5" fill="#ff0000"/>
<circle cx="551.52" cy="99.41" r="1.5" fill="#ff0000"/>
<circle cx="557.5" cy="88.31" r="1.5" fill="#ff0000"/>
<circle cx="548.15" cy="99.45" r="1.5" fill="#ff0000"/>
<circle cx="549.91" cy="93.08" r="1.5" fill="#ff0000"/>
<circle cx="553.77" cy="90.01" r="1.5" fill="#ff0000"/>
<circle cx="545.66" cy="90.62" r="1.5" fill="#ff0000"/>
<circle cx="550.14" cy="95.27" r="1.5" fill="#ff0000"/>
<circle cx="551.72" cy="88.31" r="1.5" fill="#ff0000"/>
<circle cx="558.53" cy="88.48" r="1.5" fill="#ff0000"/>
<circle cx="580.46" cy="98.93" r="1.5" fill="#ff0000"/>
<circle cx="547.65" cy="94.26" r="1.5" fill="#ff0000"/>
<circle cx="563.46" cy="96.77" r="1.5" fill="#ff0000"/>
<circle cx="564.49" cy="98.62" r="1.5" fill="#ff0000"/>
<circle cx="554.95" cy="94.49" r="1.5" fill="#ff0000"/>
<circle cx="589.41" cy="95.05" r="1.5" fill="#ff0000"/>
<circle cx="544.83" cy="89.52" r="1.5" fill="#ff0000"/>
<circle cx="571" cy="97.28" r="1.5" fill="#ff0000"/>
<circle cx="569.65" cy="97.43" r="1.5" fill="#ff0000"/>
<circle cx="542.74" cy="98.3" r="1.5" fill="#ff0000"/>
<circle cx="581.23" cy="98.55" r="1.5" fill="#ff0000"/>
<circle cx="542.64" cy="96.9" r="1.5" fill="#ff0000"/>
<circle cx="565.5" cy="98.93" r="1.5" fill="#ff0000"/>
<circle cx="545.3" cy="96.52" r="1.5" fill="#ff0000"/>
<circle cx="554.01" cy="97.64" r="1.5" fill="#ff0000"/>
<circle cx="556.82" cy="99.27" r="1.5" fill="#ff0000"/>
<circle cx="564.16" cy="93.91" r="1.5" fill="#ff0000"/>
<circle cx="556.41" cy="92.37" r="1.5" fill="#ff0000"/>
<circle cx="550.21" cy="97.57" r="1.5" fill="#ff0000"/>
<circle cx="585.64" cy="94.45" r="1.5" fill="#ff0000"/>
<circle cx="552.02" cy="94.41" r="1.5" fill="#ff0000"/>
<circle cx="554.13" cy="96.05" r="1.5" fill="#ff0000"/>
<circle cx="543.26" cy="94.09" r="1.5" fill="#ff0000"/>
<circle cx="553.47" cy="98.45" r="1.5" fill="#ff0000"/>
<circle cx="543.61" cy="98.7" r="1.5" fill="#ff0000"/>
<circle cx="551.16" cy="99.18" r="1.5" fill="#ff0000"/>
<circle cx="547.52" cy="97.27" r="1.5" fill="#ff0000"/>
<circle cx="543.58" cy="93.16" r="1.5" fill="#ff0000"/>
<circle cx="550.07" cy="93.65" r="1.5" fill="#ff0000"/>
<circle cx="560.6" cy="97.98" r="1.5" fill="#ff0000"/>
<circle cx="562.87" cy="98.87" r="1.5" fill="#ff0000"/>
<circle cx="554.42" cy="86.7" r="1.5" fill="#ff0000"/>
<circle cx="548.91" cy="97.11" r="1.5" fill="#ff0000"/>
<circle cx="585.08" cy="98.18" r="1.5" fill="#ff0000"/>
<circle cx="555.53" cy="99.22" r="1.5" fill="#ff0000"/>
<circle cx="572.64" cy="97.7" r="1.5" fill="#ff0000"/>
<circle cx="589.04" cy="97.83" r="1.5" fill="#ff0000"/>
<circle cx="548.82" cy="84.09" r="1.5" fill="#ff0000"/>
<circle cx="561.36" cy="96.84" r="1.5" fill="#ff0000"/>
<circle cx="562.32" cy="86.12" r="1.5" fill="#ff0000"/>
<circle cx="548.22" cy="99.36" r="1.5" fill="#ff0000"/>
<circle cx="558.77" cy="97.21" r="1.5" fill="#ff0000"/>
<circle cx="582.57" cy="99.13" r="1.5" fill="#ff0000"/>
<circle cx="558.15" cy="91.43" r="1.5" fill="#ff0000"/>
<circle cx="543.82" cy="97.96" r="1.5" fill="#ff0000"/>
<circle cx="543.75" cy="98.73" r="1.5" fill="#ff0000"/>
<circle cx="547.01" cy="94.96" r="1.5" fill="#ff0000"/>
<circle cx="557.29" cy="86.32" r="1.5" fill="#ff0000"/>
<circle cx="548.95" cy="84.76" r="1.5" fill="#ff0000"/>
<circle cx="556.78" cy="98.93" r="1.5" fill="#ff0000"/>
<circle cx="554.2" cy="94.88" r="1.5" fill="#ff0000"/>
<circle cx="548.57" cy="97.74" r="1.5" fill="#ff0000"/>
<circle cx="548.59" cy="90.9" r="1.5" fill="#ff0000"/>
<circle cx="554.66" cy="98.25" r="1.5" fill="#ff0000"/>
<circle cx="565.92" cy="97.89" r="1.5" fill="#ff0000"/>
<circle cx="556.48" cy="97.49" r="1.5" fill="#ff0000"/>
<circle cx="554.84" cy="93.18" r="1.5" fill="#ff0000"/>
<circle cx="554.81" cy="95.06" r="1.5" fill="#ff0000"/>
<circle cx="553.68" cy="88.1" r="1.5" fill="#ff0000"/>
<circle cx="563.98" cy="98.34" r="1.5" fill="#ff0000"/>
<circle cx="556.05" cy="97.87" r="1.5" fill="#ff0000"/>
<circle cx="545.39" cy="98.73" r="1.5" fill="#ff0000"/>
<circle cx="547.11" cy="94.21" r="1.5" fill="#ff0000"/>
<circle cx="555.79" cy="91.84" r="1.5" fill="#ff0000"/>
<circle cx="569.51" cy="99.08" r="1.5" fill="#ff0000"/>
<circle cx="553.46" cy="96.02" r="1.5" fill="#ff0000"/>
<circle cx="560.45" cy="99.05" r="1.5" fill="#ff0000"/>
<circle cx="554.55" cy="89.92" r="1.5" fill="#ff0000"/>
<circle cx="549.18" cy="99.24" r="1.5" fill="#ff0000"/>
<circle cx="556.48" cy="97.34" r="1.5" fill="#ff0000"/>
<circle cx="555.6" cy="98.94" r="1.5" fill="#ff0000"/>
<circle cx="547.89" cy="98.44" r="1.5" fill="#ff0000"/>
<circle cx="584.37" cy="99.34" r="1.5" fill="#ff0000"/>
<circle cx="550.42" cy="98.02" r="1.5" fill="#ff0000"/>
<circle cx="553.31" cy="90.76" r="1.5" fill="#ff0000"/>
<circle cx="552.52" cy="91.16" r="1.5" fill="#ff0000"/>
<circle cx="562.56" cy="98.58" r="1.5" fill="#ff0000"/>
<circle cx="551.8" cy="99.02" r="1.5" fill="#ff0000"/>
<circle cx="583.8" cy="96.04" r="1.5" fill="#ff0000"/>
<circle cx="547.85" cy="94.6" r="1.5" fill="#ff0000"/>
<circle cx="563.54" cy="96.74" r="1.5" fill="#ff0000"/>
<circle cx="580.07" cy="99.4" r="1.5" fill="#ff0000"/>
<circle cx="557.01" cy="99.14" r="1.5" fill="#ff0000"/>
<circle cx="549.39" cy="93.18" r="1.5" fill="#ff0000"/>
<circle cx="551.08" cy="88.19" r="1.5" fill="#ff0000"/>
<circle cx="550.45" cy="98.8" r="1.5" fill="#ff0000"/>
<circle cx="546.24" cy="94.63" r="1.5" fill="#ff0000"/>
<circle cx="546.95" cy="95.66" r="1.5" fill="#ff0000"/>
<circle cx="564.95" cy="92.56" r="1.5" fill="#ff0000"/>
<circle cx="550.85" cy="99.05" r="1.5" fill="#ff0000"/>
<circle cx="548.34" cy="99.39" r="1.5" fill="#ff0000"/>
<circle cx="551.08" cy="84.62" r="1.5" fill="#ff0000"/>
<circle cx="550.34" cy="98.49" r="1.5" fill="#ff0000"/>
<circle cx="559.69" cy="91.65" r="1.5" fill="#ff0000"/>
<circle cx="549.44" cy="96.54" r="1.5" fill="#ff0000"/>
<circle cx="573.07" cy="95.65" r="1.5" fill="#ff0000"/>
<circle cx="543.27" cy="96.45" r="1.5" fill="#ff0000"/>
<circle cx="545.49" cy="93.98" r="1.5" fill="#ff0000"/>
<circle cx="551.8" cy="94.71" r="1.5" fill="#ff0000"/>
<circle cx="542.88" cy="96.32" r="1.5" fill="#ff0000"/>
<circle cx="546.73" cy="97.5" r="1.5" fill="#ff0000"/>
<circle cx="550.93" cy="87.23" r="1.5" fill="#ff0000"/>
<circle cx="549.97" cy="98.02" r="1.5" fill="#ff0000"/>
<circle cx="556.56" cy="94.41" r="1.5" fill="#ff0000"/>
<circle cx="572.4" cy="96.6" r="1.5" fill="#ff0000"/>
<circle cx="570.4" cy="96.45" r="1.5" fill="#ff0000"/>
<circle cx="555.48" cy="90.48" r="1.5" fill="#ff0000"/>
<circle cx="570.85" cy="96.89" r="1.5" fill="#ff0000"/>
<circle cx="551.88" cy="96.46" r="1.5" fill="#ff0000"/>
<circle cx="581.3" cy="27.5" r="1.5" fill="#ff0000"/>
<circle cx="577.9" cy="38.2" r="1.5" fill="#ff0000"/>
<circle cx="562.3" cy="58.3" r="1.5" fill="#ff0000"/>
<circle cx="566.4" cy="58.8" r="1.5" fill="#ff0000"/>
<circle cx="576.2" cy="67.5" r="1.5" fill="#ff0000"/>
<circle cx="560.9" cy="65.3" r="1.5" fill="#ff0000"/>
<circle cx="562.4" cy="65.8" r="1.5" fill="#ff0000"/>
<circle cx="565.3" cy="70.9" r="1.5" fill="#ff0000"/>
<circle cx="574.7" cy="71.2" r="1.5" fill="#ff0000"/>
<circle cx="581.3" cy="70.4" r="1.5" fill="#ff0000"/>
<circle cx="558" cy="75.5" r="1.5" fill="#ff0000"/>
<circle cx="569.6" cy="74.8" r="1.5" fill="#ff0000"/>
<circle cx="574" cy="78.8" r="1.5" fill="#ff0000"/>
<circle cx="585" cy="80.7" r="1.5" fill="#ff0000"/>
<circle cx="574" cy="85.8" r="1.5" fill="#ff0000"/>
<circle cx="584.2" cy="86" r="1.5" fill="#ff0000"/>
<circle cx="592" cy="88.2" r="1.5" fill="#ff0000"/>
<circle cx="598.8" cy="93.5" r="1.5" fill="#ff0000"/>
<circle cx="601.5" cy="94.1" r="1.5" fill="#ff0000"/>
<circle cx="594.5" cy="95.3" r="1.5" fill="#ff0000"/>
<circle cx="593.8" cy="96.8" r="1.5" fill="#ff0000"/>
<circle cx="557.2" cy="81.1" r="1.5" fill="#ff0000"/>
<circle cx="550" cy="83.3" r="1.5" fill="#ff0000"/>
<circle cx="563.8" cy="84.7" r="1.5" fill="#ff0000"/>
<circle cx="585.7" cy="92.3" r="1.5" fill="#ff0000"/>
<circle cx="582.8" cy="93" r="1.5" fill="#ff0000"/>
<circle cx="589" cy="97.6" r="1.5" fill="#ff0000"/>
<circle cx="591" cy="98.4" r="1.5" fill="#ff0000"/>
<line x1="458.2" y1="99.7" x2="611.8" y2="99.7" stroke="#222" stroke-width="1.2" stroke-dasharray="4.6 3.2"/>
<line x1="527.8" y1="17.5" x2="527.8" y2="104.9" stroke="#222" stroke-width="1.2" stroke-dasharray="4.6 3.2"/>
<line x1="542.2" y1="17.5" x2="542.2" y2="104.9" stroke="#222" stroke-width="1.2" stroke-dasharray="4.6 3.2"/>
<rect x="458.2" y="17.5" width="153.6" height="87.4" fill="none" stroke="#5a5a5a" stroke-width="0.8"/>
<line x1="465" y1="104.9" x2="465" y2="108.3" stroke="#444" stroke-width="0.8"/>
<text x="465" y="115.5" font-size="6.6" font-weight="bold" text-anchor="middle">-10</text>
<line x1="500" y1="104.9" x2="500" y2="108.3" stroke="#444" stroke-width="0.8"/>
<text x="500" y="115.5" font-size="6.6" font-weight="bold" text-anchor="middle">-5</text>
<line x1="535" y1="104.9" x2="535" y2="108.3" stroke="#444" stroke-width="0.8"/>
<text x="535" y="115.5" font-size="6.6" font-weight="bold" text-anchor="middle">0</text>
<line x1="570" y1="104.9" x2="570" y2="108.3" stroke="#444" stroke-width="0.8"/>
<text x="570" y="115.5" font-size="6.6" font-weight="bold" text-anchor="middle">5</text>
<line x1="605" y1="104.9" x2="605" y2="108.3" stroke="#444" stroke-width="0.8"/>
<text x="605" y="115.5" font-size="6.6" font-weight="bold" text-anchor="middle">10</text>
<line x1="454.4" y1="101.4" x2="458.2" y2="101.4" stroke="#444" stroke-width="0.8"/>
<text x="452.2" y="103.8" font-size="6.6" font-weight="bold" text-anchor="end">0</text>
<line x1="454.4" y1="72.3" x2="458.2" y2="72.3" stroke="#444" stroke-width="0.8"/>
<text x="452.2" y="74.7" font-size="6.6" font-weight="bold" text-anchor="end">20</text>
<line x1="454.4" y1="43.2" x2="458.2" y2="43.2" stroke="#444" stroke-width="0.8"/>
<text x="452.2" y="45.6" font-size="6.6" font-weight="bold" text-anchor="end">40</text>
<text x="537.8" y="128.3" font-size="6.6" font-weight="bold" text-anchor="middle">log2 (Fold Change)</text>
<text transform="translate(437.3 65.3) rotate(-90)" font-size="6.6" font-weight="bold" text-anchor="middle" textLength="39.2" lengthAdjust="spacingAndGlyphs">-log10 (padj)</text>
<circle cx="464.2" cy="26.3" r="1.6" fill="#ff0000"/>
<circle cx="464.2" cy="35.6" r="1.9" fill="#2000ff"/>
<text x="470.8" y="28.7" font-size="6.7" font-weight="bold">Up: 357</text>
<text x="470.8" y="37.9" font-size="6.7" font-weight="bold">Down: 94</text>
<text x="573.7" y="25.7" font-size="6.6" font-style="italic">Cxcl1</text>
<text x="570.3" y="34.9" font-size="6.6" font-style="italic">Cxcl5</text>
<text x="560.8" y="56.4" font-size="6.6" font-style="italic">Ccl5</text>
<text x="571.9" y="64.4" font-size="6.6" font-style="italic">Il1a</text>
<text x="563.3" y="69.5" font-size="6.6" font-style="italic">Ccl7</text>
<text x="542.8" y="72.5" font-size="6.6" font-style="italic">Cxcl10</text>
<text x="571.3" y="77.9" font-size="6.6" font-style="italic">Tnf</text>
<text x="580.3" y="78.5" font-size="6.6" font-style="italic">Cxcl2</text>
<text x="569.7" y="84.5" font-size="6.6" font-style="italic">Ccl2</text>
<text x="586" y="85.9" font-size="6.6" font-style="italic">Il1b</text>
<text x="557.2" y="88.9" font-size="6.6" font-style="italic">Ccl3</text>
<text x="590.8" y="93.6" font-size="6.6" font-style="italic">Il6</text>
<text x="554.2" y="104.6" font-size="6.6" font-style="italic">Ccl12</text>
<text x="582" y="104.6" font-size="6.6" font-style="italic">Cxcl3</text>
</g>
<g>
<text x="0.8" y="140.6" font-size="12.4">E</text>
<line x1="62.7" y1="227.3" x2="62.7" y2="231.3" stroke="#3c3c3c" stroke-width="0.7"/>
<text transform="translate(63.7 235.1) rotate(-45)" font-size="6.8" font-style="italic" text-anchor="end">Tnf</text>
<path d="M52.5 227.3V226.5H55.5V227.3" fill="#fff" stroke="#1a1a1a" stroke-width="1"/>
<circle cx="52.8" cy="225.55" r="0.95" fill="#b400e6"/>
<circle cx="53.7" cy="225.88" r="0.95" fill="#b400e6"/>
<circle cx="54.6" cy="225.84" r="0.95" fill="#b400e6"/>
<circle cx="55.4" cy="226" r="0.95" fill="#b400e6"/>
<path d="M58.5 227.3V219.5H61.5V227.3" fill="#fff" stroke="#1a1a1a" stroke-width="1"/>
<line x1="59.73" y1="216.51" x2="59.73" y2="222.53" stroke="#2000ff" stroke-width="0.8"/>
<line x1="58.63" y1="216.51" x2="60.83" y2="216.51" stroke="#2000ff" stroke-width="0.8"/>
<line x1="58.63" y1="222.53" x2="60.83" y2="222.53" stroke="#2000ff" stroke-width="0.8"/>
<circle cx="60.64" cy="224.04" r="0.85" fill="#2000ff"/>
<circle cx="59.97" cy="218.19" r="0.85" fill="#2000ff"/>
<circle cx="60.08" cy="216.14" r="0.85" fill="#2000ff"/>
<circle cx="60.29" cy="224.04" r="0.85" fill="#2000ff"/>
<circle cx="60.48" cy="221.67" r="0.85" fill="#2000ff"/>
<circle cx="59.53" cy="220.41" r="0.85" fill="#2000ff"/>
<path d="M63.5 227.3V213.5H66.5V227.3" fill="#fff" stroke="#1a1a1a" stroke-width="1"/>
<line x1="65.36" y1="210.99" x2="65.36" y2="217.01" stroke="#ff0000" stroke-width="0.8"/>
<line x1="64.26" y1="210.99" x2="66.46" y2="210.99" stroke="#ff0000" stroke-width="0.8"/>
<line x1="64.26" y1="217.01" x2="66.46" y2="217.01" stroke="#ff0000" stroke-width="0.8"/>
<circle cx="64.57" cy="211.13" r="0.85" fill="#ff0000"/>
<circle cx="64.49" cy="213.28" r="0.85" fill="#ff0000"/>
<circle cx="64.78" cy="213.19" r="0.85" fill="#ff0000"/>
<circle cx="64.47" cy="215.43" r="0.85" fill="#ff0000"/>
<circle cx="64.36" cy="216.34" r="0.85" fill="#ff0000"/>
<circle cx="65.09" cy="214.81" r="0.85" fill="#ff0000"/>
<path d="M69.5 227.3V181.5H72.5V227.3" fill="#fff" stroke="#1a1a1a" stroke-width="1"/>
<line x1="70.99" y1="167.31" x2="70.99" y2="194.92" stroke="#00f000" stroke-width="0.8"/>
<line x1="69.89" y1="167.31" x2="72.09" y2="167.31" stroke="#00f000" stroke-width="0.8"/>
<line x1="69.89" y1="194.92" x2="72.09" y2="194.92" stroke="#00f000" stroke-width="0.8"/>
<circle cx="70.04" cy="186.31" r="0.85" fill="#00f000"/>
<circle cx="70.29" cy="194.53" r="0.85" fill="#00f000"/>
<circle cx="70.49" cy="167.59" r="0.85" fill="#00f000"/>
<circle cx="70.24" cy="173.57" r="0.85" fill="#00f000"/>
<circle cx="71.69" cy="191.87" r="0.85" fill="#00f000"/>
<circle cx="70.96" cy="196.56" r="0.85" fill="#00f000"/>
<line x1="88.6" y1="227.3" x2="88.6" y2="231.3" stroke="#3c3c3c" stroke-width="0.7"/>
<text transform="translate(89.6 235.1) rotate(-45)" font-size="6.8" font-style="italic" text-anchor="end">Il1a</text>
<circle cx="78.75" cy="226.27" r="0.95" fill="#b400e6"/>
<circle cx="79.65" cy="226.28" r="0.95" fill="#b400e6"/>
<circle cx="80.55" cy="226.47" r="0.95" fill="#b400e6"/>
<circle cx="81.35" cy="226.41" r="0.95" fill="#b400e6"/>
<path d="M84.5 227.3V225.5H87.5V227.3" fill="#fff" stroke="#1a1a1a" stroke-width="1"/>
<circle cx="84.38" cy="225.46" r="0.95" fill="#2000ff"/>
<circle cx="85.28" cy="224.92" r="0.95" fill="#2000ff"/>
<circle cx="86.18" cy="224.81" r="0.95" fill="#2000ff"/>
<circle cx="86.98" cy="225.55" r="0.95" fill="#2000ff"/>
<path d="M89.5 227.3V214.5H92.5V227.3" fill="#fff" stroke="#1a1a1a" stroke-width="1"/>
<line x1="91.31" y1="212.24" x2="91.31" y2="216.26" stroke="#ff0000" stroke-width="0.8"/>
<line x1="90.21" y1="212.24" x2="92.41" y2="212.24" stroke="#ff0000" stroke-width="0.8"/>
<line x1="90.21" y1="216.26" x2="92.41" y2="216.26" stroke="#ff0000" stroke-width="0.8"/>
<circle cx="91.36" cy="214.15" r="0.85" fill="#ff0000"/>
<circle cx="90.36" cy="215.77" r="0.85" fill="#ff0000"/>
<circle cx="91.36" cy="216.25" r="0.85" fill="#ff0000"/>
<circle cx="91.7" cy="217.26" r="0.85" fill="#ff0000"/>
<circle cx="90.83" cy="213.71" r="0.85" fill="#ff0000"/>
<circle cx="91.85" cy="213.44" r="0.85" fill="#ff0000"/>
<path d="M95.5 227.3V205.5H98.5V227.3" fill="#fff" stroke="#1a1a1a" stroke-width="1"/>
<line x1="96.94" y1="201.2" x2="96.94" y2="210.23" stroke="#00f000" stroke-width="0.8"/>
<line x1="95.84" y1="201.2" x2="98.04" y2="201.2" stroke="#00f000" stroke-width="0.8"/>
<line x1="95.84" y1="210.23" x2="98.04" y2="210.23" stroke="#00f000" stroke-width="0.8"/>
<circle cx="97" cy="207.74" r="0.85" fill="#00f000"/>
<circle cx="96.38" cy="206.45" r="0.85" fill="#00f000"/>
<circle cx="97.56" cy="201.74" r="0.85" fill="#00f000"/>
<circle cx="97.55" cy="212.49" r="0.85" fill="#00f000"/>
<circle cx="97.57" cy="204.88" r="0.85" fill="#00f000"/>
<circle cx="96.97" cy="205.51" r="0.85" fill="#00f000"/>
<line x1="114.5" y1="227.3" x2="114.5" y2="231.3" stroke="#3c3c3c" stroke-width="0.7"/>
<text transform="translate(115.5 235.1) rotate(-45)" font-size="6.8" font-style="italic" text-anchor="end">Il1b</text>
<circle cx="104.69" cy="226.48" r="0.95" fill="#b400e6"/>
<circle cx="105.59" cy="226.22" r="0.95" fill="#b400e6"/>
<circle cx="106.49" cy="226.22" r="0.95" fill="#b400e6"/>
<circle cx="107.29" cy="226.42" r="0.95" fill="#b400e6"/>
<path d="M110.5 227.3V225.5H113.5V227.3" fill="#fff" stroke="#1a1a1a" stroke-width="1"/>
<circle cx="110.32" cy="225" r="0.95" fill="#2000ff"/>
<circle cx="111.22" cy="225.35" r="0.95" fill="#2000ff"/>
<circle cx="112.12" cy="225.56" r="0.95" fill="#2000ff"/>
<circle cx="112.92" cy="225.15" r="0.95" fill="#2000ff"/>
<path d="M115.5 227.3V213.5H118.5V227.3" fill="#fff" stroke="#1a1a1a" stroke-width="1"/>
<line x1="117.25" y1="210.73" x2="117.25" y2="215.75" stroke="#ff0000" stroke-width="0.8"/>
<line x1="116.15" y1="210.73" x2="118.35" y2="210.73" stroke="#ff0000" stroke-width="0.8"/>
<line x1="116.15" y1="215.75" x2="118.35" y2="215.75" stroke="#ff0000" stroke-width="0.8"/>
<circle cx="118.13" cy="211.45" r="0.85" fill="#ff0000"/>
<circle cx="116.98" cy="217.01" r="0.85" fill="#ff0000"/>
<circle cx="116.69" cy="212.77" r="0.85" fill="#ff0000"/>
<circle cx="116.66" cy="213.48" r="0.85" fill="#ff0000"/>
<circle cx="117.5" cy="214.89" r="0.85" fill="#ff0000"/>
<circle cx="117.21" cy="217.01" r="0.85" fill="#ff0000"/>
<path d="M121.5 227.3V202.5H124.5V227.3" fill="#fff" stroke="#1a1a1a" stroke-width="1"/>
<line x1="122.88" y1="199.69" x2="122.88" y2="204.71" stroke="#00f000" stroke-width="0.8"/>
<line x1="121.78" y1="199.69" x2="123.98" y2="199.69" stroke="#00f000" stroke-width="0.8"/>
<line x1="121.78" y1="204.71" x2="123.98" y2="204.71" stroke="#00f000" stroke-width="0.8"/>
<circle cx="123.19" cy="199.38" r="0.85" fill="#00f000"/>
<circle cx="123.2" cy="202.52" r="0.85" fill="#00f000"/>
<circle cx="123.7" cy="201.19" r="0.85" fill="#00f000"/>
<circle cx="122.84" cy="203.04" r="0.85" fill="#00f000"/>
<circle cx="122.24" cy="198.11" r="0.85" fill="#00f000"/>
<circle cx="123.48" cy="202.75" r="0.85" fill="#00f000"/>
<line x1="140.4" y1="227.3" x2="140.4" y2="231.3" stroke="#3c3c3c" stroke-width="0.7"/>
<text transform="translate(141.4 235.1) rotate(-45)" font-size="6.8" font-style="italic" text-anchor="end">Ccl2</text>
<circle cx="130.64" cy="226.98" r="0.95" fill="#b400e6"/>
<circle cx="131.54" cy="226.52" r="0.95" fill="#b400e6"/>
<circle cx="132.44" cy="226.52" r="0.95" fill="#b400e6"/>
<circle cx="133.24" cy="226.96" r="0.95" fill="#b400e6"/>
<path d="M136.5 227.3V223.5H139.5V227.3" fill="#fff" stroke="#1a1a1a" stroke-width="1"/>
<line x1="137.57" y1="221.53" x2="137.57" y2="224.54" stroke="#2000ff" stroke-width="0.8"/>
<line x1="136.47" y1="221.53" x2="138.67" y2="221.53" stroke="#2000ff" stroke-width="0.8"/>
<line x1="136.47" y1="224.54" x2="138.67" y2="224.54" stroke="#2000ff" stroke-width="0.8"/>
<circle cx="138.02" cy="221.72" r="0.85" fill="#2000ff"/>
<circle cx="136.87" cy="223.41" r="0.85" fill="#2000ff"/>
<circle cx="138.38" cy="223.72" r="0.85" fill="#2000ff"/>
<circle cx="138.22" cy="223.33" r="0.85" fill="#2000ff"/>
<circle cx="138.53" cy="222.24" r="0.85" fill="#2000ff"/>
<circle cx="137.67" cy="222.26" r="0.85" fill="#2000ff"/>
<path d="M141.5 227.3V212.5H144.5V227.3" fill="#fff" stroke="#1a1a1a" stroke-width="1"/>
<line x1="143.2" y1="209.23" x2="143.2" y2="215.25" stroke="#ff0000" stroke-width="0.8"/>
<line x1="142.1" y1="209.23" x2="144.3" y2="209.23" stroke="#ff0000" stroke-width="0.8"/>
<line x1="142.1" y1="215.25" x2="144.3" y2="215.25" stroke="#ff0000" stroke-width="0.8"/>
<circle cx="142.46" cy="209.9" r="0.85" fill="#ff0000"/>
<circle cx="143.5" cy="216.76" r="0.85" fill="#ff0000"/>
<circle cx="143.25" cy="212.96" r="0.85" fill="#ff0000"/>
<circle cx="143.94" cy="215.18" r="0.85" fill="#ff0000"/>
<circle cx="143.85" cy="210.94" r="0.85" fill="#ff0000"/>
<circle cx="142.78" cy="212.8" r="0.85" fill="#ff0000"/>
<path d="M147.5 227.3V201.5H150.5V227.3" fill="#fff" stroke="#1a1a1a" stroke-width="1"/>
<line x1="148.83" y1="196.93" x2="148.83" y2="206.97" stroke="#00f000" stroke-width="0.8"/>
<line x1="147.73" y1="196.93" x2="149.93" y2="196.93" stroke="#00f000" stroke-width="0.8"/>
<line x1="147.73" y1="206.97" x2="149.93" y2="206.97" stroke="#00f000" stroke-width="0.8"/>
<circle cx="148.31" cy="205.66" r="0.85" fill="#00f000"/>
<circle cx="148.67" cy="198.62" r="0.85" fill="#00f000"/>
<circle cx="148.09" cy="199.94" r="0.85" fill="#00f000"/>
<circle cx="148.74" cy="205.91" r="0.85" fill="#00f000"/>
<circle cx="148.99" cy="199.44" r="0.85" fill="#00f000"/>
<circle cx="149.66" cy="206.27" r="0.85" fill="#00f000"/>
<line x1="166.3" y1="227.3" x2="166.3" y2="231.3" stroke="#3c3c3c" stroke-width="0.7"/>
<text transform="translate(167.3 235.1) rotate(-45)" font-size="6.8" font-style="italic" text-anchor="end">Ccl3</text>
<path d="M156.5 227.3V225.5H159.5V227.3" fill="#fff" stroke="#1a1a1a" stroke-width="1"/>
<circle cx="156.58" cy="224.94" r="0.95" fill="#b400e6"/>
<circle cx="157.48" cy="224.97" r="0.95" fill="#b400e6"/>
<circle cx="158.38" cy="224.96" r="0.95" fill="#b400e6"/>
<circle cx="159.18" cy="224.56" r="0.95" fill="#b400e6"/>
<path d="M162.5 227.3V224.5H165.5V227.3" fill="#fff" stroke="#1a1a1a" stroke-width="1"/>
<line x1="163.51" y1="223.28" x2="163.51" y2="225.29" stroke="#2000ff" stroke-width="0.8"/>
<line x1="162.41" y1="223.28" x2="164.61" y2="223.28" stroke="#2000ff" stroke-width="0.8"/>
<line x1="162.41" y1="225.29" x2="164.61" y2="225.29" stroke="#2000ff" stroke-width="0.8"/>
<circle cx="163.39" cy="223.69" r="0.85" fill="#2000ff"/>
<circle cx="164.11" cy="224.32" r="0.85" fill="#2000ff"/>
<circle cx="162.86" cy="224.37" r="0.85" fill="#2000ff"/>
<circle cx="163.63" cy="222.7" r="0.85" fill="#2000ff"/>
<circle cx="163.17" cy="224.56" r="0.85" fill="#2000ff"/>
<circle cx="164.08" cy="223.02" r="0.85" fill="#2000ff"/>
<path d="M167.5 227.3V218.5H170.5V227.3" fill="#fff" stroke="#1a1a1a" stroke-width="1"/>
<line x1="169.14" y1="216" x2="169.14" y2="220.02" stroke="#ff0000" stroke-width="0.8"/>
<line x1="168.04" y1="216" x2="170.24" y2="216" stroke="#ff0000" stroke-width="0.8"/>
<line x1="168.04" y1="220.02" x2="170.24" y2="220.02" stroke="#ff0000" stroke-width="0.8"/>
<circle cx="168.36" cy="217.72" r="0.85" fill="#ff0000"/>
<circle cx="168.7" cy="216.6" r="0.85" fill="#ff0000"/>
<circle cx="169.69" cy="217.45" r="0.85" fill="#ff0000"/>
<circle cx="169.66" cy="215.44" r="0.85" fill="#ff0000"/>
<circle cx="169.97" cy="217.89" r="0.85" fill="#ff0000"/>
<circle cx="169.16" cy="215.42" r="0.85" fill="#ff0000"/>
<path d="M173.5 227.3V211.5H176.5V227.3" fill="#fff" stroke="#1a1a1a" stroke-width="1"/>
<line x1="174.77" y1="208.22" x2="174.77" y2="215.25" stroke="#00f000" stroke-width="0.8"/>
<line x1="173.67" y1="208.22" x2="175.87" y2="208.22" stroke="#00f000" stroke-width="0.8"/>
<line x1="173.67" y1="215.25" x2="175.87" y2="215.25" stroke="#00f000" stroke-width="0.8"/>
<circle cx="174.8" cy="213.43" r="0.85" fill="#00f000"/>
<circle cx="174.84" cy="210.38" r="0.85" fill="#00f000"/>
<circle cx="174.73" cy="208.13" r="0.85" fill="#00f000"/>
<circle cx="175.53" cy="216.82" r="0.85" fill="#00f000"/>
<circle cx="175.66" cy="209.78" r="0.85" fill="#00f000"/>
<circle cx="175.66" cy="211.47" r="0.85" fill="#00f000"/>
<line x1="192.2" y1="227.3" x2="192.2" y2="231.3" stroke="#3c3c3c" stroke-width="0.7"/>
<text transform="translate(193.2 235.1) rotate(-45)" font-size="6.8" font-style="italic" text-anchor="end">Ccl5</text>
<circle cx="182.53" cy="226.87" r="0.95" fill="#b400e6"/>
<circle cx="183.43" cy="226.31" r="0.95" fill="#b400e6"/>
<circle cx="184.33" cy="226.3" r="0.95" fill="#b400e6"/>
<circle cx="185.13" cy="226.55" r="0.95" fill="#b400e6"/>
<path d="M187.5 227.3V225.5H190.5V227.3" fill="#fff" stroke="#1a1a1a" stroke-width="1"/>
<circle cx="188.16" cy="224.85" r="0.95" fill="#2000ff"/>
<circle cx="189.06" cy="224.98" r="0.95" fill="#2000ff"/>
<circle cx="189.96" cy="224.85" r="0.95" fill="#2000ff"/>
<circle cx="190.76" cy="225.33" r="0.95" fill="#2000ff"/>
<path d="M193.5 227.3V221.5H196.5V227.3" fill="#fff" stroke="#1a1a1a" stroke-width="1"/>
<line x1="195.09" y1="220.27" x2="195.09" y2="223.28" stroke="#ff0000" stroke-width="0.8"/>
<line x1="193.99" y1="220.27" x2="196.19" y2="220.27" stroke="#ff0000" stroke-width="0.8"/>
<line x1="193.99" y1="223.28" x2="196.19" y2="223.28" stroke="#ff0000" stroke-width="0.8"/>
<circle cx="195.66" cy="223.7" r="0.85" fill="#ff0000"/>
<circle cx="195.52" cy="222.47" r="0.85" fill="#ff0000"/>
<circle cx="195.41" cy="221.25" r="0.85" fill="#ff0000"/>
<circle cx="196.03" cy="223.72" r="0.85" fill="#ff0000"/>
<circle cx="194.53" cy="224.04" r="0.85" fill="#ff0000"/>
<circle cx="195.06" cy="223.23" r="0.85" fill="#ff0000"/>
<path d="M199.5 227.3V198.5H202.5V227.3" fill="#fff" stroke="#1a1a1a" stroke-width="1"/>
<line x1="200.72" y1="193.16" x2="200.72" y2="204.21" stroke="#00f000" stroke-width="0.8"/>
<line x1="199.62" y1="193.16" x2="201.82" y2="193.16" stroke="#00f000" stroke-width="0.8"/>
<line x1="199.62" y1="204.21" x2="201.82" y2="204.21" stroke="#00f000" stroke-width="0.8"/>
<circle cx="201.7" cy="197.05" r="0.85" fill="#00f000"/>
<circle cx="200.58" cy="200.31" r="0.85" fill="#00f000"/>
<circle cx="200.75" cy="195.84" r="0.85" fill="#00f000"/>
<circle cx="200.36" cy="196.75" r="0.85" fill="#00f000"/>
<circle cx="201.16" cy="201.77" r="0.85" fill="#00f000"/>
<circle cx="200.6" cy="205.65" r="0.85" fill="#00f000"/>
<line x1="218.1" y1="227.3" x2="218.1" y2="231.3" stroke="#3c3c3c" stroke-width="0.7"/>
<text transform="translate(219.1 235.1) rotate(-45)" font-size="6.8" font-style="italic" text-anchor="end">Cxcl10</text>
<circle cx="208.48" cy="226.06" r="0.95" fill="#b400e6"/>
<circle cx="209.38" cy="226.31" r="0.95" fill="#b400e6"/>
<circle cx="210.28" cy="226.55" r="0.95" fill="#b400e6"/>
<circle cx="211.08" cy="226.46" r="0.95" fill="#b400e6"/>
<path d="M213.5 227.3V222.5H216.5V227.3" fill="#fff" stroke="#1a1a1a" stroke-width="1"/>
<line x1="215.41" y1="221.28" x2="215.41" y2="224.29" stroke="#2000ff" stroke-width="0.8"/>
<line x1="214.31" y1="221.28" x2="216.51" y2="221.28" stroke="#2000ff" stroke-width="0.8"/>
<line x1="214.31" y1="224.29" x2="216.51" y2="224.29" stroke="#2000ff" stroke-width="0.8"/>
<circle cx="214.53" cy="223.02" r="0.85" fill="#2000ff"/>
<circle cx="216.35" cy="225.04" r="0.85" fill="#2000ff"/>
<circle cx="214.62" cy="222.53" r="0.85" fill="#2000ff"/>
<circle cx="215.96" cy="222.74" r="0.85" fill="#2000ff"/>
<circle cx="214.95" cy="223.21" r="0.85" fill="#2000ff"/>
<circle cx="216.23" cy="223.87" r="0.85" fill="#2000ff"/>
<path d="M219.5 227.3V214.5H222.5V227.3" fill="#fff" stroke="#1a1a1a" stroke-width="1"/>
<line x1="221.04" y1="211.24" x2="221.04" y2="217.26" stroke="#ff0000" stroke-width="0.8"/>
<line x1="219.94" y1="211.24" x2="222.14" y2="211.24" stroke="#ff0000" stroke-width="0.8"/>
<line x1="219.94" y1="217.26" x2="222.14" y2="217.26" stroke="#ff0000" stroke-width="0.8"/>
<circle cx="221.67" cy="216.54" r="0.85" fill="#ff0000"/>
<circle cx="221.87" cy="214.16" r="0.85" fill="#ff0000"/>
<circle cx="221.18" cy="215.96" r="0.85" fill="#ff0000"/>
<circle cx="220.15" cy="213.85" r="0.85" fill="#ff0000"/>
<circle cx="221.41" cy="213.01" r="0.85" fill="#ff0000"/>
<circle cx="221.91" cy="213.21" r="0.85" fill="#ff0000"/>
<path d="M225.5 227.3V198.5H228.5V227.3" fill="#fff" stroke="#1a1a1a" stroke-width="1"/>
<line x1="226.67" y1="194.17" x2="226.67" y2="203.2" stroke="#00f000" stroke-width="0.8"/>
<line x1="225.57" y1="194.17" x2="227.77" y2="194.17" stroke="#00f000" stroke-width="0.8"/>
<line x1="225.57" y1="203.2" x2="227.77" y2="203.2" stroke="#00f000" stroke-width="0.8"/>
<circle cx="226.93" cy="199.48" r="0.85" fill="#00f000"/>
<circle cx="227.38" cy="199.29" r="0.85" fill="#00f000"/>
<circle cx="225.8" cy="196.89" r="0.85" fill="#00f000"/>
<circle cx="226.34" cy="201.92" r="0.85" fill="#00f000"/>
<circle cx="226.77" cy="194.91" r="0.85" fill="#00f000"/>
<circle cx="225.92" cy="201.88" r="0.85" fill="#00f000"/>
<line x1="244" y1="227.3" x2="244" y2="231.3" stroke="#3c3c3c" stroke-width="0.7"/>
<text transform="translate(245 235.1) rotate(-45)" font-size="6.8" font-style="italic" text-anchor="end">Cxcl2</text>
<circle cx="234.42" cy="226.62" r="0.95" fill="#b400e6"/>
<circle cx="235.32" cy="226.39" r="0.95" fill="#b400e6"/>
<circle cx="236.22" cy="226.29" r="0.95" fill="#b400e6"/>
<circle cx="237.02" cy="226.33" r="0.95" fill="#b400e6"/>
<circle cx="240.05" cy="226.24" r="0.95" fill="#2000ff"/>
<circle cx="240.95" cy="226.36" r="0.95" fill="#2000ff"/>
<circle cx="241.85" cy="226.45" r="0.95" fill="#2000ff"/>
<circle cx="242.65" cy="226.44" r="0.95" fill="#2000ff"/>
<circle cx="245.68" cy="226.4" r="0.95" fill="#ff0000"/>
<circle cx="246.58" cy="226.03" r="0.95" fill="#ff0000"/>
<circle cx="247.48" cy="226.2" r="0.95" fill="#ff0000"/>
<circle cx="248.28" cy="225.94" r="0.95" fill="#ff0000"/>
<path d="M251.5 227.3V222.5H254.5V227.3" fill="#fff" stroke="#1a1a1a" stroke-width="1"/>
<line x1="252.61" y1="219.77" x2="252.61" y2="224.79" stroke="#00f000" stroke-width="0.8"/>
<line x1="251.51" y1="219.77" x2="253.71" y2="219.77" stroke="#00f000" stroke-width="0.8"/>
<line x1="251.51" y1="224.79" x2="253.71" y2="224.79" stroke="#00f000" stroke-width="0.8"/>
<circle cx="252.31" cy="221.4" r="0.85" fill="#00f000"/>
<circle cx="251.64" cy="224.17" r="0.85" fill="#00f000"/>
<circle cx="253.08" cy="222.5" r="0.85" fill="#00f000"/>
<circle cx="252.56" cy="220.74" r="0.85" fill="#00f000"/>
<circle cx="253.48" cy="221.77" r="0.85" fill="#00f000"/>
<circle cx="252.48" cy="225.92" r="0.85" fill="#00f000"/>
<line x1="269.9" y1="227.3" x2="269.9" y2="231.3" stroke="#3c3c3c" stroke-width="0.7"/>
<text transform="translate(270.9 235.1) rotate(-45)" font-size="6.8" font-style="italic" text-anchor="end">Il6</text>
<circle cx="260.37" cy="226.6" r="0.95" fill="#b400e6"/>
<circle cx="261.27" cy="226.87" r="0.95" fill="#b400e6"/>
<circle cx="262.17" cy="226.51" r="0.95" fill="#b400e6"/>
<circle cx="262.97" cy="226.61" r="0.95" fill="#b400e6"/>
<circle cx="266" cy="226.75" r="0.95" fill="#2000ff"/>
<circle cx="266.9" cy="226.99" r="0.95" fill="#2000ff"/>
<circle cx="267.8" cy="226.47" r="0.95" fill="#2000ff"/>
<circle cx="268.6" cy="226.87" r="0.95" fill="#2000ff"/>
<circle cx="271.63" cy="226.61" r="0.95" fill="#ff0000"/>
<circle cx="272.53" cy="226.56" r="0.95" fill="#ff0000"/>
<circle cx="273.43" cy="226.37" r="0.95" fill="#ff0000"/>
<circle cx="274.23" cy="226.33" r="0.95" fill="#ff0000"/>
<path d="M277.5 227.3V224.5H280.5V227.3" fill="#fff" stroke="#1a1a1a" stroke-width="1"/>
<line x1="278.56" y1="223.28" x2="278.56" y2="225.79" stroke="#00f000" stroke-width="0.8"/>
<line x1="277.46" y1="223.28" x2="279.66" y2="223.28" stroke="#00f000" stroke-width="0.8"/>
<line x1="277.46" y1="225.79" x2="279.66" y2="225.79" stroke="#00f000" stroke-width="0.8"/>
<circle cx="277.67" cy="225.98" r="0.85" fill="#00f000"/>
<circle cx="279.04" cy="224.87" r="0.85" fill="#00f000"/>
<circle cx="278.07" cy="224.89" r="0.85" fill="#00f000"/>
<circle cx="279.24" cy="224.81" r="0.85" fill="#00f000"/>
<circle cx="279.3" cy="224.99" r="0.85" fill="#00f000"/>
<circle cx="278.04" cy="224.05" r="0.85" fill="#00f000"/>
<line x1="295.8" y1="227.3" x2="295.8" y2="231.3" stroke="#3c3c3c" stroke-width="0.7"/>
<text transform="translate(296.8 235.1) rotate(-45)" font-size="6.8" font-style="italic" text-anchor="end">Ccl7</text>
<circle cx="286.31" cy="226.43" r="0.95" fill="#b400e6"/>
<circle cx="287.21" cy="226.57" r="0.95" fill="#b400e6"/>
<circle cx="288.11" cy="226.33" r="0.95" fill="#b400e6"/>
<circle cx="288.91" cy="226.56" r="0.95" fill="#b400e6"/>
<circle cx="291.94" cy="226.41" r="0.95" fill="#2000ff"/>
<circle cx="292.84" cy="226.97" r="0.95" fill="#2000ff"/>
<circle cx="293.74" cy="226.98" r="0.95" fill="#2000ff"/>
<circle cx="294.54" cy="226.64" r="0.95" fill="#2000ff"/>
<path d="M297.5 227.3V226.5H300.5V227.3" fill="#fff" stroke="#1a1a1a" stroke-width="1"/>
<circle cx="297.57" cy="225.74" r="0.95" fill="#ff0000"/>
<circle cx="298.47" cy="226.32" r="0.95" fill="#ff0000"/>
<circle cx="299.37" cy="225.79" r="0.95" fill="#ff0000"/>
<circle cx="300.17" cy="225.83" r="0.95" fill="#ff0000"/>
<path d="M303.5 227.3V224.5H306.5V227.3" fill="#fff" stroke="#1a1a1a" stroke-width="1"/>
<line x1="304.5" y1="223.54" x2="304.5" y2="226.05" stroke="#00f000" stroke-width="0.8"/>
<line x1="303.4" y1="223.54" x2="305.6" y2="223.54" stroke="#00f000" stroke-width="0.8"/>
<line x1="303.4" y1="226.05" x2="305.6" y2="226.05" stroke="#00f000" stroke-width="0.8"/>
<circle cx="303.51" cy="223.89" r="0.85" fill="#00f000"/>
<circle cx="304.51" cy="223.74" r="0.85" fill="#00f000"/>
<circle cx="303.91" cy="225.75" r="0.85" fill="#00f000"/>
<circle cx="304.03" cy="224.67" r="0.85" fill="#00f000"/>
<circle cx="303.68" cy="224.79" r="0.85" fill="#00f000"/>
<circle cx="303.55" cy="224.49" r="0.85" fill="#00f000"/>
<line x1="321.7" y1="227.3" x2="321.7" y2="231.3" stroke="#3c3c3c" stroke-width="0.7"/>
<text transform="translate(322.7 235.1) rotate(-45)" font-size="6.8" font-style="italic" text-anchor="end">Ccl12</text>
<circle cx="312.26" cy="226.44" r="0.95" fill="#b400e6"/>
<circle cx="313.16" cy="226.39" r="0.95" fill="#b400e6"/>
<circle cx="314.06" cy="226.67" r="0.95" fill="#b400e6"/>
<circle cx="314.86" cy="226.62" r="0.95" fill="#b400e6"/>
<circle cx="317.89" cy="226.8" r="0.95" fill="#2000ff"/>
<circle cx="318.79" cy="226.73" r="0.95" fill="#2000ff"/>
<circle cx="319.69" cy="226.77" r="0.95" fill="#2000ff"/>
<circle cx="320.49" cy="226.9" r="0.95" fill="#2000ff"/>
<path d="M323.5 227.3V226.5H326.5V227.3" fill="#fff" stroke="#1a1a1a" stroke-width="1"/>
<circle cx="323.52" cy="225.86" r="0.95" fill="#ff0000"/>
<circle cx="324.42" cy="225.81" r="0.95" fill="#ff0000"/>
<circle cx="325.32" cy="226.33" r="0.95" fill="#ff0000"/>
<circle cx="326.12" cy="225.66" r="0.95" fill="#ff0000"/>
<path d="M328.5 227.3V223.5H331.5V227.3" fill="#fff" stroke="#1a1a1a" stroke-width="1"/>
<line x1="330.45" y1="221.78" x2="330.45" y2="224.29" stroke="#00f000" stroke-width="0.8"/>
<line x1="329.35" y1="221.78" x2="331.55" y2="221.78" stroke="#00f000" stroke-width="0.8"/>
<line x1="329.35" y1="224.29" x2="331.55" y2="224.29" stroke="#00f000" stroke-width="0.8"/>
<circle cx="330.9" cy="223.25" r="0.85" fill="#00f000"/>
<circle cx="331.12" cy="222.8" r="0.85" fill="#00f000"/>
<circle cx="331.23" cy="222.74" r="0.85" fill="#00f000"/>
<circle cx="331.07" cy="221.61" r="0.85" fill="#00f000"/>
<circle cx="329.73" cy="221.57" r="0.85" fill="#00f000"/>
<circle cx="331.12" cy="221.56" r="0.85" fill="#00f000"/>
<line x1="347.6" y1="227.3" x2="347.6" y2="231.3" stroke="#3c3c3c" stroke-width="0.7"/>
<text transform="translate(348.6 235.1) rotate(-45)" font-size="6.8" font-style="italic" text-anchor="end">Cxcl1</text>
<circle cx="338.21" cy="226.84" r="0.95" fill="#b400e6"/>
<circle cx="339.11" cy="226.86" r="0.95" fill="#b400e6"/>
<circle cx="340.01" cy="226.67" r="0.95" fill="#b400e6"/>
<circle cx="340.81" cy="226.91" r="0.95" fill="#b400e6"/>
<circle cx="343.84" cy="226.75" r="0.95" fill="#2000ff"/>
<circle cx="344.74" cy="226.75" r="0.95" fill="#2000ff"/>
<circle cx="345.64" cy="226.38" r="0.95" fill="#2000ff"/>
<circle cx="346.44" cy="226.22" r="0.95" fill="#2000ff"/>
<circle cx="349.47" cy="226.31" r="0.95" fill="#ff0000"/>
<circle cx="350.37" cy="226.49" r="0.95" fill="#ff0000"/>
<circle cx="351.27" cy="226.28" r="0.95" fill="#ff0000"/>
<circle cx="352.07" cy="226.87" r="0.95" fill="#ff0000"/>
<circle cx="355.1" cy="226.24" r="0.95" fill="#00f000"/>
<circle cx="356" cy="226.3" r="0.95" fill="#00f000"/>
<circle cx="356.9" cy="226.3" r="0.95" fill="#00f000"/>
<circle cx="357.7" cy="226.34" r="0.95" fill="#00f000"/>
<line x1="373.5" y1="227.3" x2="373.5" y2="231.3" stroke="#3c3c3c" stroke-width="0.7"/>
<text transform="translate(374.5 235.1) rotate(-45)" font-size="6.8" font-style="italic" text-anchor="end">Cxcl3</text>
<circle cx="364.15" cy="226.59" r="0.95" fill="#b400e6"/>
<circle cx="365.05" cy="226.2" r="0.95" fill="#b400e6"/>
<circle cx="365.95" cy="226.84" r="0.95" fill="#b400e6"/>
<circle cx="366.75" cy="226.8" r="0.95" fill="#b400e6"/>
<circle cx="369.78" cy="226.6" r="0.95" fill="#2000ff"/>
<circle cx="370.68" cy="226.63" r="0.95" fill="#2000ff"/>
<circle cx="371.58" cy="226.73" r="0.95" fill="#2000ff"/>
<circle cx="372.38" cy="226.25" r="0.95" fill="#2000ff"/>
<circle cx="375.41" cy="226.79" r="0.95" fill="#ff0000"/>
<circle cx="376.31" cy="226.4" r="0.95" fill="#ff0000"/>
<circle cx="377.21" cy="226.26" r="0.95" fill="#ff0000"/>
<circle cx="378.01" cy="226.41" r="0.95" fill="#ff0000"/>
<circle cx="381.04" cy="226.38" r="0.95" fill="#00f000"/>
<circle cx="381.94" cy="225.96" r="0.95" fill="#00f000"/>
<circle cx="382.84" cy="226.39" r="0.95" fill="#00f000"/>
<circle cx="383.64" cy="226.58" r="0.95" fill="#00f000"/>
<line x1="399.4" y1="227.3" x2="399.4" y2="231.3" stroke="#3c3c3c" stroke-width="0.7"/>
<text transform="translate(400.4 235.1) rotate(-45)" font-size="6.8" font-style="italic" text-anchor="end">Cxcl5</text>
<circle cx="390.1" cy="226.6" r="0.95" fill="#b400e6"/>
<circle cx="391" cy="226.51" r="0.95" fill="#b400e6"/>
<circle cx="391.9" cy="226.58" r="0.95" fill="#b400e6"/>
<circle cx="392.7" cy="226.75" r="0.95" fill="#b400e6"/>
<circle cx="395.73" cy="226.81" r="0.95" fill="#2000ff"/>
<circle cx="396.63" cy="226.69" r="0.95" fill="#2000ff"/>
<circle cx="397.53" cy="226.71" r="0.95" fill="#2000ff"/>
<circle cx="398.33" cy="226.26" r="0.95" fill="#2000ff"/>
<circle cx="401.36" cy="226.32" r="0.95" fill="#ff0000"/>
<circle cx="402.26" cy="226.4" r="0.95" fill="#ff0000"/>
<circle cx="403.16" cy="226.79" r="0.95" fill="#ff0000"/>
<circle cx="403.96" cy="226.44" r="0.95" fill="#ff0000"/>
<circle cx="406.99" cy="226.65" r="0.95" fill="#00f000"/>
<circle cx="407.89" cy="226.21" r="0.95" fill="#00f000"/>
<circle cx="408.79" cy="226.25" r="0.95" fill="#00f000"/>
<circle cx="409.59" cy="226.42" r="0.95" fill="#00f000"/>
<line x1="45.6" y1="227.3" x2="413" y2="227.3" stroke="#3c3c3c" stroke-width="0.7"/>
<line x1="49.8" y1="151.65" x2="49.8" y2="227.65" stroke="#3c3c3c" stroke-width="0.7"/>
<line x1="45.8" y1="152" x2="49.8" y2="152" stroke="#3c3c3c" stroke-width="0.7"/>
<text x="41.4" y="154.85" font-size="6.8" text-anchor="end">0.3</text>
<line x1="45.8" y1="177.1" x2="49.8" y2="177.1" stroke="#3c3c3c" stroke-width="0.7"/>
<text x="41.4" y="179.55" font-size="6.8" text-anchor="end">0.2</text>
<line x1="45.8" y1="202.2" x2="49.8" y2="202.2" stroke="#3c3c3c" stroke-width="0.7"/>
<text x="41.4" y="204.65" font-size="6.8" text-anchor="end">0.1</text>
<line x1="45.8" y1="227.3" x2="49.8" y2="227.3" stroke="#3c3c3c" stroke-width="0.7"/>
<text x="41.4" y="229.15" font-size="6.8" text-anchor="end">0</text>
<text transform="translate(16 192.3) rotate(-90)" font-size="6.7" text-anchor="middle" textLength="34.2" lengthAdjust="spacingAndGlyphs">mRNA level</text>
<text transform="translate(23.4 192.3) rotate(-90)" font-size="6.7" text-anchor="middle" textLength="58.4" lengthAdjust="spacingAndGlyphs">(Relative to <tspan font-style="italic">Gapdh</tspan>)</text>
<circle cx="111.4" cy="152.7" r="2.35" fill="#b400e6"/>
<circle cx="111.4" cy="163.7" r="2.35" fill="#2000ff"/>
<circle cx="142" cy="152.7" r="2.35" fill="#ff0000"/>
<circle cx="142" cy="163.7" r="2.35" fill="#00f000"/>
<text x="117" y="154.9" font-size="6.8">0 µM</text>
<text x="117" y="165.9" font-size="6.8">1 µM</text>
<text x="148.4" y="154.9" font-size="6.8">5 µM</text>
<text x="148.4" y="165.9" font-size="6.8">10 µM</text>
</g>
<g>
<text x="415.2" y="140.6" font-size="12.4">F</text>
<rect x="428.7" y="167.8" width="106.9" height="50.3" fill="none" stroke="#2a2a2a" stroke-width="1.1"/>
<rect x="577.6" y="167.8" width="107" height="50.5" fill="none" stroke="#2a2a2a" stroke-width="1.1"/>
<line x1="536" y1="193.5" x2="571.5" y2="193.5" stroke="#111" stroke-width="0.9"/>
<path d="M570.2 190.1L576.8 193.5L570.2 196.9z" fill="#000"/>
<text x="554.3" y="190" font-size="6.7" text-anchor="middle">ABHD16A</text>
<text x="554.8" y="204" font-size="6.7" text-anchor="middle">PS-PLA1</text>
<text x="479.5" y="229.2" font-size="6.7" text-anchor="middle">Phosphatidylserine (PS)</text>
<text x="633.4" y="230.6" font-size="6.7" text-anchor="middle">Lysohosphatidylserine (LysoPS)</text>
<line x1="432.77" y1="184.71" x2="440.14" y2="179.8" stroke="#222" stroke-width="0.7"/>
<line x1="440.14" y1="179.8" x2="440.14" y2="173.56" stroke="#222" stroke-width="0.7"/>
<line x1="441.44" y1="179.8" x2="441.44" y2="173.56" stroke="#222" stroke-width="0.7"/>
<line x1="440.14" y1="179.8" x2="446.85" y2="183.55" stroke="#222" stroke-width="0.7"/>
<line x1="450.64" y1="185.78" x2="456.81" y2="189.64" stroke="#222" stroke-width="0.7"/>
<line x1="456.81" y1="189.64" x2="456.81" y2="201.29" stroke="#222" stroke-width="0.7"/>
<line x1="432.8" y1="205.25" x2="440.14" y2="200.68" stroke="#222" stroke-width="0.7"/>
<line x1="440.14" y1="200.68" x2="440.14" y2="194.65" stroke="#222" stroke-width="0.7"/>
<line x1="441.44" y1="200.68" x2="441.44" y2="194.65" stroke="#222" stroke-width="0.7"/>
<line x1="440.14" y1="200.68" x2="446.89" y2="204.77" stroke="#222" stroke-width="0.7"/>
<line x1="450.68" y1="204.81" x2="456.81" y2="201.29" stroke="#222" stroke-width="0.7"/>
<line x1="456.81" y1="201.29" x2="468.25" y2="207.31" stroke="#222" stroke-width="0.7"/>
<line x1="468.25" y1="207.31" x2="473.75" y2="204.34" stroke="#222" stroke-width="0.7"/>
<line x1="477.88" y1="203.29" x2="481.41" y2="203.29" stroke="#222" stroke-width="0.7"/>
<line x1="483.31" y1="201.39" x2="483.31" y2="197.66" stroke="#222" stroke-width="0.7"/>
<line x1="484.61" y1="201.39" x2="484.61" y2="197.66" stroke="#222" stroke-width="0.7"/>
<line x1="483.31" y1="205.19" x2="483.31" y2="207.92" stroke="#222" stroke-width="0.7"/>
<line x1="485.21" y1="203.14" x2="488.75" y2="202.86" stroke="#222" stroke-width="0.7"/>
<line x1="492.89" y1="201.67" x2="499.38" y2="198.27" stroke="#222" stroke-width="0.7"/>
<line x1="499.38" y1="198.27" x2="509.42" y2="203.29" stroke="#222" stroke-width="0.7"/>
<line x1="509.42" y1="203.29" x2="519.86" y2="197.27" stroke="#222" stroke-width="0.7"/>
<line x1="519.86" y1="197.27" x2="519.86" y2="190.63" stroke="#222" stroke-width="0.7"/>
<line x1="521.16" y1="197.27" x2="521.16" y2="190.63" stroke="#222" stroke-width="0.7"/>
<line x1="519.86" y1="197.27" x2="526.55" y2="201.47" stroke="#222" stroke-width="0.7"/>
<line x1="509.42" y1="203.29" x2="509.42" y2="210.03" stroke="#222" stroke-width="0.7"/>
<text x="431.1" y="187.72" font-size="4.9" text-anchor="middle" fill="#222">R</text>
<text x="431.1" y="208.21" font-size="4.9" text-anchor="middle" fill="#222">R</text>
<text x="440.74" y="173.06" font-size="4.9" text-anchor="middle" fill="#222">O</text>
<text x="440.74" y="194.15" font-size="4.9" text-anchor="middle" fill="#222">O</text>
<text x="448.78" y="186.52" font-size="4.9" text-anchor="middle" fill="#222">O</text>
<text x="448.78" y="207.8" font-size="4.9" text-anchor="middle" fill="#222">O</text>
<text x="475.68" y="205.19" font-size="4.9" text-anchor="middle" fill="#222">O</text>
<text x="483.31" y="205.19" font-size="4.9" text-anchor="middle" fill="#222">P</text>
<text x="483.91" y="197.16" font-size="4.9" text-anchor="middle" fill="#222">O</text>
<text x="484.31" y="212.22" font-size="4.9" text-anchor="middle" fill="#222">O<tspan font-size="4.2" dy="-1.6">-</tspan></text>
<text x="490.94" y="204.59" font-size="4.9" text-anchor="middle" fill="#222">O</text>
<text x="520.46" y="190.13" font-size="4.9" text-anchor="middle" fill="#222">O</text>
<text x="529.69" y="204.59" font-size="4.9" text-anchor="middle" fill="#222">O<tspan font-size="4.2" dy="-1.6">-</tspan></text>
<text x="514.92" y="214.83" font-size="4.9" text-anchor="middle" fill="#222">NH<tspan font-size="3.4" dy="1">3</tspan><tspan dy="-2.4" font-size="4"> +</tspan></text>
<line x1="582.38" y1="185.49" x2="589.16" y2="180.8" stroke="#222" stroke-width="0.7"/>
<line x1="589.16" y1="180.8" x2="589.16" y2="174.17" stroke="#222" stroke-width="0.7"/>
<line x1="590.46" y1="180.8" x2="590.46" y2="174.17" stroke="#222" stroke-width="0.7"/>
<line x1="589.16" y1="180.8" x2="595.88" y2="184.55" stroke="#222" stroke-width="0.7"/>
<line x1="599.75" y1="186.64" x2="606.63" y2="190.24" stroke="#222" stroke-width="0.7"/>
<line x1="606.63" y1="190.24" x2="606.63" y2="201.89" stroke="#222" stroke-width="0.7"/>
<line x1="606.63" y1="201.89" x2="599.62" y2="205.26" stroke="#222" stroke-width="0.7"/>
<line x1="606.63" y1="201.89" x2="617.88" y2="207.91" stroke="#222" stroke-width="0.7"/>
<line x1="617.88" y1="207.91" x2="623.4" y2="204.78" stroke="#222" stroke-width="0.7"/>
<line x1="627.51" y1="203.69" x2="630.84" y2="203.69" stroke="#222" stroke-width="0.7"/>
<line x1="632.74" y1="201.79" x2="632.74" y2="198.26" stroke="#222" stroke-width="0.7"/>
<line x1="634.04" y1="201.79" x2="634.04" y2="198.26" stroke="#222" stroke-width="0.7"/>
<line x1="632.74" y1="205.59" x2="632.74" y2="208.32" stroke="#222" stroke-width="0.7"/>
<line x1="634.64" y1="203.59" x2="638.17" y2="203.41" stroke="#222" stroke-width="0.7"/>
<line x1="642.28" y1="202.2" x2="648.4" y2="198.67" stroke="#222" stroke-width="0.7"/>
<line x1="648.4" y1="198.67" x2="659.04" y2="203.9" stroke="#222" stroke-width="0.7"/>
<line x1="659.04" y1="203.9" x2="669.49" y2="197.87" stroke="#222" stroke-width="0.7"/>
<line x1="669.49" y1="197.87" x2="669.49" y2="191.24" stroke="#222" stroke-width="0.7"/>
<line x1="670.79" y1="197.87" x2="670.79" y2="191.24" stroke="#222" stroke-width="0.7"/>
<line x1="669.49" y1="197.87" x2="676.17" y2="202.07" stroke="#222" stroke-width="0.7"/>
<line x1="659.04" y1="203.9" x2="659.04" y2="210.63" stroke="#222" stroke-width="0.7"/>
<text x="580.73" y="188.53" font-size="4.9" text-anchor="middle" fill="#222">R</text>
<text x="589.76" y="173.67" font-size="4.9" text-anchor="middle" fill="#222">O</text>
<text x="597.8" y="187.52" font-size="4.9" text-anchor="middle" fill="#222">O</text>
<text x="596.19" y="208.81" font-size="4.9" text-anchor="middle" fill="#222">HO</text>
<text x="625.31" y="205.59" font-size="4.9" text-anchor="middle" fill="#222">O</text>
<text x="632.74" y="205.59" font-size="4.9" text-anchor="middle" fill="#222">P</text>
<text x="633.34" y="197.76" font-size="4.9" text-anchor="middle" fill="#222">O</text>
<text x="633.74" y="212.62" font-size="4.9" text-anchor="middle" fill="#222">O<tspan font-size="4.2" dy="-1.6">-</tspan></text>
<text x="640.37" y="205.19" font-size="4.9" text-anchor="middle" fill="#222">O</text>
<text x="670.09" y="190.74" font-size="4.9" text-anchor="middle" fill="#222">O</text>
<text x="679.32" y="205.19" font-size="4.9" text-anchor="middle" fill="#222">O<tspan font-size="4.2" dy="-1.6">-</tspan></text>
<text x="664.54" y="215.43" font-size="4.9" text-anchor="middle" fill="#222">NH<tspan font-size="3.4" dy="1">3</tspan><tspan dy="-2.4" font-size="4"> +</tspan></text>
</g>
<g>
<text x="0.2" y="262.6" font-size="12.4">G</text>
<line x1="63.1" y1="352.3" x2="63.1" y2="356.7" stroke="#1a1a1a" stroke-width="1"/>
<text transform="translate(65.1 360.3) rotate(-45)" font-size="6.6" text-anchor="end">LysoPS (18:0)</text>
<path d="M55.5 352.3V319.5H61.5V352.3" fill="#fff" stroke="#1a1a1a" stroke-width="1.1"/>
<line x1="58.3" y1="312.56" x2="58.3" y2="326.16" stroke="#2000ff" stroke-width="0.9"/>
<line x1="56.7" y1="312.56" x2="59.9" y2="312.56" stroke="#2000ff" stroke-width="0.9"/>
<line x1="56.7" y1="326.16" x2="59.9" y2="326.16" stroke="#2000ff" stroke-width="0.9"/>
<circle cx="58.75" cy="318.16" r="0.85" fill="#2000ff"/>
<circle cx="57.76" cy="315.73" r="0.85" fill="#2000ff"/>
<circle cx="58.34" cy="309.82" r="0.85" fill="#2000ff"/>
<circle cx="57.31" cy="311.92" r="0.85" fill="#2000ff"/>
<circle cx="59.32" cy="321.03" r="0.85" fill="#2000ff"/>
<circle cx="59.43" cy="325.25" r="0.85" fill="#2000ff"/>
<path d="M65.5 352.3V351.5H71.5V352.3" fill="#fff" stroke="#1a1a1a" stroke-width="1.1"/>
<circle cx="65.7" cy="349.96" r="0.95" fill="#ff0000"/>
<circle cx="66.8" cy="350.46" r="0.95" fill="#ff0000"/>
<circle cx="67.9" cy="350.86" r="0.95" fill="#ff0000"/>
<circle cx="69" cy="351.03" r="0.95" fill="#ff0000"/>
<circle cx="70.1" cy="350.45" r="0.95" fill="#ff0000"/>
<circle cx="71.2" cy="350.25" r="0.95" fill="#ff0000"/>
<line x1="55" y1="305.2" x2="66.6" y2="305.2" stroke="#222" stroke-width="1"/>
<text x="60.8" y="303.4" font-size="8.8" text-anchor="middle">***</text>
<line x1="91.55" y1="352.3" x2="91.55" y2="356.7" stroke="#1a1a1a" stroke-width="1"/>
<text transform="translate(93.55 360.3) rotate(-45)" font-size="6.6" text-anchor="end">LysoPS (18:1)</text>
<path d="M83.5 352.3V312.5H89.5V352.3" fill="#fff" stroke="#1a1a1a" stroke-width="1.1"/>
<line x1="86.75" y1="300.15" x2="86.75" y2="324.75" stroke="#2000ff" stroke-width="0.9"/>
<line x1="85.15" y1="300.15" x2="88.35" y2="300.15" stroke="#2000ff" stroke-width="0.9"/>
<line x1="85.15" y1="324.75" x2="88.35" y2="324.75" stroke="#2000ff" stroke-width="0.9"/>
<circle cx="86" cy="330.9" r="0.85" fill="#2000ff"/>
<circle cx="86.96" cy="320.43" r="0.85" fill="#2000ff"/>
<circle cx="85.82" cy="309.62" r="0.85" fill="#2000ff"/>
<circle cx="85.79" cy="292.3" r="0.85" fill="#2000ff"/>
<circle cx="87.58" cy="307.88" r="0.85" fill="#2000ff"/>
<circle cx="87.28" cy="292.3" r="0.85" fill="#2000ff"/>
<path d="M93.5 352.3V344.5H99.5V352.3" fill="#fff" stroke="#1a1a1a" stroke-width="1.1"/>
<line x1="96.95" y1="341.46" x2="96.95" y2="347.46" stroke="#ff0000" stroke-width="0.9"/>
<line x1="95.45" y1="341.46" x2="98.45" y2="341.46" stroke="#ff0000" stroke-width="0.9"/>
<line x1="95.45" y1="347.46" x2="98.45" y2="347.46" stroke="#ff0000" stroke-width="0.9"/>
<circle cx="94.15" cy="342.13" r="0.95" fill="#ff0000"/>
<circle cx="95.25" cy="344.93" r="0.95" fill="#ff0000"/>
<circle cx="96.35" cy="343.2" r="0.95" fill="#ff0000"/>
<circle cx="97.45" cy="341.26" r="0.95" fill="#ff0000"/>
<circle cx="98.55" cy="341.17" r="0.95" fill="#ff0000"/>
<circle cx="99.65" cy="343.22" r="0.95" fill="#ff0000"/>
<line x1="84.3" y1="289.1" x2="95.9" y2="289.1" stroke="#222" stroke-width="1"/>
<text x="90.1" y="287.3" font-size="8.8" text-anchor="middle">***</text>
<line x1="120" y1="352.3" x2="120" y2="356.7" stroke="#1a1a1a" stroke-width="1"/>
<text transform="translate(122 360.3) rotate(-45)" font-size="6.6" text-anchor="end">LysoPS (22:6)</text>
<path d="M112.5 352.3V324.5H118.5V352.3" fill="#fff" stroke="#1a1a1a" stroke-width="1.1"/>
<line x1="115.2" y1="320.29" x2="115.2" y2="329.09" stroke="#2000ff" stroke-width="0.9"/>
<line x1="113.6" y1="320.29" x2="116.8" y2="320.29" stroke="#2000ff" stroke-width="0.9"/>
<line x1="113.6" y1="329.09" x2="116.8" y2="329.09" stroke="#2000ff" stroke-width="0.9"/>
<circle cx="115.07" cy="324.19" r="0.85" fill="#2000ff"/>
<circle cx="114.79" cy="323.91" r="0.85" fill="#2000ff"/>
<circle cx="114.72" cy="326.99" r="0.85" fill="#2000ff"/>
<circle cx="115.85" cy="324.83" r="0.85" fill="#2000ff"/>
<circle cx="116.08" cy="324.47" r="0.85" fill="#2000ff"/>
<circle cx="115.75" cy="331.29" r="0.85" fill="#2000ff"/>
<path d="M122.5 352.3V350.5H128.5V352.3" fill="#fff" stroke="#1a1a1a" stroke-width="1.1"/>
<line x1="125.4" y1="349.53" x2="125.4" y2="351.93" stroke="#ff0000" stroke-width="0.9"/>
<line x1="123.9" y1="349.53" x2="126.9" y2="349.53" stroke="#ff0000" stroke-width="0.9"/>
<line x1="123.9" y1="351.93" x2="126.9" y2="351.93" stroke="#ff0000" stroke-width="0.9"/>
<circle cx="122.6" cy="350.75" r="0.95" fill="#ff0000"/>
<circle cx="123.7" cy="349.72" r="0.95" fill="#ff0000"/>
<circle cx="124.8" cy="349.86" r="0.95" fill="#ff0000"/>
<circle cx="125.9" cy="349.89" r="0.95" fill="#ff0000"/>
<circle cx="127" cy="350.91" r="0.95" fill="#ff0000"/>
<circle cx="128.1" cy="350.22" r="0.95" fill="#ff0000"/>
<line x1="112.7" y1="314.2" x2="124.3" y2="314.2" stroke="#222" stroke-width="1"/>
<text x="118.5" y="312.4" font-size="8.8" text-anchor="middle">***</text>
<line x1="148.45" y1="352.3" x2="148.45" y2="356.7" stroke="#1a1a1a" stroke-width="1"/>
<text transform="translate(150.45 360.3) rotate(-45)" font-size="6.6" text-anchor="end">LysoPS (20:1)</text>
<path d="M140.5 352.3V346.5H146.5V352.3" fill="#fff" stroke="#1a1a1a" stroke-width="1.1"/>
<line x1="143.65" y1="344.25" x2="143.65" y2="349.05" stroke="#2000ff" stroke-width="0.9"/>
<line x1="142.05" y1="344.25" x2="145.25" y2="344.25" stroke="#2000ff" stroke-width="0.9"/>
<line x1="142.05" y1="349.05" x2="145.25" y2="349.05" stroke="#2000ff" stroke-width="0.9"/>
<circle cx="143.29" cy="350.25" r="0.85" fill="#2000ff"/>
<circle cx="142.48" cy="344.92" r="0.85" fill="#2000ff"/>
<circle cx="142.61" cy="347.49" r="0.85" fill="#2000ff"/>
<circle cx="144.78" cy="347.65" r="0.85" fill="#2000ff"/>
<circle cx="143" cy="344.96" r="0.85" fill="#2000ff"/>
<circle cx="142.84" cy="346.37" r="0.85" fill="#2000ff"/>
<path d="M150.5 352.3V351.5H156.5V352.3" fill="#fff" stroke="#1a1a1a" stroke-width="1.1"/>
<circle cx="151.05" cy="351.24" r="0.95" fill="#ff0000"/>
<circle cx="152.15" cy="351.73" r="0.95" fill="#ff0000"/>
<circle cx="153.25" cy="351.67" r="0.95" fill="#ff0000"/>
<circle cx="154.35" cy="351.61" r="0.95" fill="#ff0000"/>
<circle cx="155.45" cy="351.46" r="0.95" fill="#ff0000"/>
<circle cx="156.55" cy="351.7" r="0.95" fill="#ff0000"/>
<line x1="141.8" y1="338.2" x2="153.4" y2="338.2" stroke="#222" stroke-width="1"/>
<text x="147.6" y="336.4" font-size="8.8" text-anchor="middle">***</text>
<line x1="45" y1="352.3" x2="163.5" y2="352.3" stroke="#1a1a1a" stroke-width="1"/>
<line x1="49.8" y1="276.1" x2="49.8" y2="352.8" stroke="#1a1a1a" stroke-width="1"/>
<line x1="45.6" y1="276.6" x2="49.8" y2="276.6" stroke="#1a1a1a" stroke-width="1"/>
<text x="41.2" y="279.35" font-size="6.8" text-anchor="end">240</text>
<line x1="45.6" y1="301.8" x2="49.8" y2="301.8" stroke="#1a1a1a" stroke-width="1"/>
<text x="41.2" y="304.25" font-size="6.8" text-anchor="end">160</text>
<line x1="45.6" y1="327" x2="49.8" y2="327" stroke="#1a1a1a" stroke-width="1"/>
<text x="41.2" y="329.45" font-size="6.8" text-anchor="end">80</text>
<line x1="45.6" y1="352.3" x2="49.8" y2="352.3" stroke="#1a1a1a" stroke-width="1"/>
<text x="41.2" y="354.15" font-size="6.8" text-anchor="end">0</text>
<text transform="translate(25.5 315.7) rotate(-90)" font-size="6.8" text-anchor="middle" textLength="83.4" lengthAdjust="spacingAndGlyphs">Area Under the Curve (10<tspan dy="-2.2" font-size="3.8">6</tspan><tspan dy="2.2">)</tspan></text>
<circle cx="125.9" cy="270.5" r="2.25" fill="#2000ff"/>
<circle cx="125.9" cy="282.1" r="2.25" fill="#ff0000"/>
<text x="130.9" y="272.7" font-size="6.8" font-style="italic">Abhd16a<tspan dy="-2.86" font-size="4.49">+/+</tspan></text>
<text x="130.9" y="284.3" font-size="6.8" font-style="italic">Abhd16a<tspan dy="-2.86" font-size="4.49">-/-</tspan></text>
</g>
<g>
<text x="184.2" y="262.6" font-size="12.4">H</text>
<line x1="248.3" y1="350.4" x2="248.3" y2="354.8" stroke="#1a1a1a" stroke-width="1"/>
<text transform="translate(249.7 358.2) rotate(-45)" font-size="7.2" font-style="italic" text-anchor="end">Il1a</text>
<circle cx="239.4" cy="349.5" r="0.95" fill="#b400e6"/>
<circle cx="240.3" cy="349.5" r="0.95" fill="#b400e6"/>
<circle cx="241.2" cy="349.5" r="0.95" fill="#b400e6"/>
<circle cx="242.1" cy="349.5" r="0.95" fill="#b400e6"/>
<circle cx="243" cy="349.5" r="0.95" fill="#b400e6"/>
<path d="M246.5 350.4V330.5H251.5V350.4" fill="#fff" stroke="#1a1a1a" stroke-width="1"/>
<line x1="248.5" y1="323.82" x2="248.5" y2="336.82" stroke="#2000ff" stroke-width="1.1"/>
<line x1="247.1" y1="323.82" x2="249.9" y2="323.82" stroke="#2000ff" stroke-width="1.1"/>
<line x1="247.1" y1="336.82" x2="249.9" y2="336.82" stroke="#2000ff" stroke-width="1.1"/>
<circle cx="249.29" cy="338.06" r="1" fill="#2000ff"/>
<circle cx="247.69" cy="321.1" r="1" fill="#2000ff"/>
<circle cx="248.92" cy="327.16" r="1" fill="#2000ff"/>
<circle cx="248.76" cy="321.1" r="1" fill="#2000ff"/>
<circle cx="248.12" cy="333.62" r="1" fill="#2000ff"/>
<circle cx="247.83" cy="340.07" r="1" fill="#2000ff"/>
<circle cx="248.45" cy="334.82" r="1" fill="#2000ff"/>
<path d="M253.5 350.4V344.5H258.5V350.4" fill="#fff" stroke="#1a1a1a" stroke-width="1"/>
<line x1="255.6" y1="341.18" x2="255.6" y2="347.58" stroke="#ff0000" stroke-width="1.1"/>
<line x1="254.2" y1="341.18" x2="257" y2="341.18" stroke="#ff0000" stroke-width="1.1"/>
<line x1="254.2" y1="347.58" x2="257" y2="347.58" stroke="#ff0000" stroke-width="1.1"/>
<circle cx="256.08" cy="342.88" r="1" fill="#ff0000"/>
<circle cx="256.55" cy="346.61" r="1" fill="#ff0000"/>
<circle cx="255.2" cy="344.08" r="1" fill="#ff0000"/>
<circle cx="255.71" cy="349.04" r="1" fill="#ff0000"/>
<circle cx="254.92" cy="342.85" r="1" fill="#ff0000"/>
<circle cx="255.02" cy="345.57" r="1" fill="#ff0000"/>
<circle cx="255.04" cy="347.49" r="1" fill="#ff0000"/>
<line x1="248" y1="317.9" x2="257" y2="317.9" stroke="#999" stroke-width="0.9"/>
<text x="252.5" y="316.1" font-size="8.8" text-anchor="middle">***</text>
<line x1="274.71" y1="350.4" x2="274.71" y2="354.8" stroke="#1a1a1a" stroke-width="1"/>
<text transform="translate(276.11 358.2) rotate(-45)" font-size="7.2" font-style="italic" text-anchor="end">Il1b</text>
<circle cx="265.81" cy="349.5" r="0.95" fill="#b400e6"/>
<circle cx="266.71" cy="349.5" r="0.95" fill="#b400e6"/>
<circle cx="267.61" cy="349.5" r="0.95" fill="#b400e6"/>
<circle cx="268.51" cy="349.5" r="0.95" fill="#b400e6"/>
<circle cx="269.41" cy="349.5" r="0.95" fill="#b400e6"/>
<path d="M272.5 350.4V310.5H277.5V350.4" fill="#fff" stroke="#1a1a1a" stroke-width="1"/>
<line x1="274.91" y1="304.74" x2="274.91" y2="315.74" stroke="#2000ff" stroke-width="1.1"/>
<line x1="273.51" y1="304.74" x2="276.31" y2="304.74" stroke="#2000ff" stroke-width="1.1"/>
<line x1="273.51" y1="315.74" x2="276.31" y2="315.74" stroke="#2000ff" stroke-width="1.1"/>
<circle cx="275.64" cy="306.65" r="1" fill="#2000ff"/>
<circle cx="274.26" cy="316.25" r="1" fill="#2000ff"/>
<circle cx="274.36" cy="310.11" r="1" fill="#2000ff"/>
<circle cx="274.17" cy="314.48" r="1" fill="#2000ff"/>
<circle cx="274.44" cy="312.96" r="1" fill="#2000ff"/>
<circle cx="275.61" cy="309.87" r="1" fill="#2000ff"/>
<circle cx="275.36" cy="317.37" r="1" fill="#2000ff"/>
<path d="M279.5 350.4V335.5H284.5V350.4" fill="#fff" stroke="#1a1a1a" stroke-width="1"/>
<line x1="282.01" y1="330.22" x2="282.01" y2="341.22" stroke="#ff0000" stroke-width="1.1"/>
<line x1="280.61" y1="330.22" x2="283.41" y2="330.22" stroke="#ff0000" stroke-width="1.1"/>
<line x1="280.61" y1="341.22" x2="283.41" y2="341.22" stroke="#ff0000" stroke-width="1.1"/>
<circle cx="282.06" cy="330.86" r="1" fill="#ff0000"/>
<circle cx="281.76" cy="338.68" r="1" fill="#ff0000"/>
<circle cx="281.57" cy="334.68" r="1" fill="#ff0000"/>
<circle cx="282.95" cy="337.39" r="1" fill="#ff0000"/>
<circle cx="282.27" cy="340.29" r="1" fill="#ff0000"/>
<circle cx="282.74" cy="340.34" r="1" fill="#ff0000"/>
<circle cx="281.51" cy="336.64" r="1" fill="#ff0000"/>
<line x1="272.71" y1="299.2" x2="281.71" y2="299.2" stroke="#333" stroke-width="0.9"/>
<text x="277.21" y="297.4" font-size="8.8" text-anchor="middle">***</text>
<line x1="301.12" y1="350.4" x2="301.12" y2="354.8" stroke="#1a1a1a" stroke-width="1"/>
<text transform="translate(302.52 358.2) rotate(-45)" font-size="7.2" font-style="italic" text-anchor="end">Il6</text>
<circle cx="292.22" cy="349.5" r="0.95" fill="#b400e6"/>
<circle cx="293.12" cy="349.5" r="0.95" fill="#b400e6"/>
<circle cx="294.02" cy="349.5" r="0.95" fill="#b400e6"/>
<circle cx="294.92" cy="349.5" r="0.95" fill="#b400e6"/>
<circle cx="295.82" cy="349.5" r="0.95" fill="#b400e6"/>
<path d="M298.5 350.4V321.5H303.5V350.4" fill="#fff" stroke="#1a1a1a" stroke-width="1"/>
<line x1="301.32" y1="314.28" x2="301.32" y2="328.28" stroke="#2000ff" stroke-width="1.1"/>
<line x1="299.92" y1="314.28" x2="302.72" y2="314.28" stroke="#2000ff" stroke-width="1.1"/>
<line x1="299.92" y1="328.28" x2="302.72" y2="328.28" stroke="#2000ff" stroke-width="1.1"/>
<circle cx="301.14" cy="326.72" r="1" fill="#2000ff"/>
<circle cx="301.95" cy="312.4" r="1" fill="#2000ff"/>
<circle cx="301.99" cy="327.08" r="1" fill="#2000ff"/>
<circle cx="301.7" cy="323.06" r="1" fill="#2000ff"/>
<circle cx="302.03" cy="321.53" r="1" fill="#2000ff"/>
<circle cx="300.42" cy="312.4" r="1" fill="#2000ff"/>
<circle cx="301.12" cy="322.84" r="1" fill="#2000ff"/>
<path d="M305.5 350.4V338.5H310.5V350.4" fill="#fff" stroke="#1a1a1a" stroke-width="1"/>
<line x1="308.42" y1="333.79" x2="308.42" y2="342.79" stroke="#ff0000" stroke-width="1.1"/>
<line x1="307.02" y1="333.79" x2="309.82" y2="333.79" stroke="#ff0000" stroke-width="1.1"/>
<line x1="307.02" y1="342.79" x2="309.82" y2="342.79" stroke="#ff0000" stroke-width="1.1"/>
<circle cx="309.13" cy="345.04" r="1" fill="#ff0000"/>
<circle cx="309.36" cy="334.56" r="1" fill="#ff0000"/>
<circle cx="307.73" cy="338.31" r="1" fill="#ff0000"/>
<circle cx="308.46" cy="340.45" r="1" fill="#ff0000"/>
<circle cx="308.86" cy="333.85" r="1" fill="#ff0000"/>
<circle cx="308.71" cy="330.64" r="1" fill="#ff0000"/>
<circle cx="308.52" cy="338.75" r="1" fill="#ff0000"/>
<line x1="299.12" y1="309.2" x2="308.12" y2="309.2" stroke="#333" stroke-width="0.9"/>
<text x="303.62" y="307.4" font-size="8.8" text-anchor="middle">***</text>
<line x1="327.53" y1="350.4" x2="327.53" y2="354.8" stroke="#1a1a1a" stroke-width="1"/>
<text transform="translate(328.93 358.2) rotate(-45)" font-size="7.2" font-style="italic" text-anchor="end">Tnf</text>
<circle cx="318.63" cy="349.5" r="0.95" fill="#b400e6"/>
<circle cx="319.53" cy="349.5" r="0.95" fill="#b400e6"/>
<circle cx="320.43" cy="349.5" r="0.95" fill="#b400e6"/>
<circle cx="321.33" cy="349.5" r="0.95" fill="#b400e6"/>
<circle cx="322.23" cy="349.5" r="0.95" fill="#b400e6"/>
<path d="M325.5 350.4V307.5H330.5V350.4" fill="#fff" stroke="#1a1a1a" stroke-width="1"/>
<line x1="327.73" y1="301.86" x2="327.73" y2="313.86" stroke="#2000ff" stroke-width="1.1"/>
<line x1="326.33" y1="301.86" x2="329.13" y2="301.86" stroke="#2000ff" stroke-width="1.1"/>
<line x1="326.33" y1="313.86" x2="329.13" y2="313.86" stroke="#2000ff" stroke-width="1.1"/>
<circle cx="326.9" cy="301.25" r="1" fill="#2000ff"/>
<circle cx="328.49" cy="308.74" r="1" fill="#2000ff"/>
<circle cx="327.99" cy="303.58" r="1" fill="#2000ff"/>
<circle cx="327.28" cy="306.81" r="1" fill="#2000ff"/>
<circle cx="327.98" cy="310.82" r="1" fill="#2000ff"/>
<circle cx="326.96" cy="306.93" r="1" fill="#2000ff"/>
<circle cx="327.77" cy="305.08" r="1" fill="#2000ff"/>
<path d="M332.5 350.4V334.5H337.5V350.4" fill="#fff" stroke="#1a1a1a" stroke-width="1"/>
<line x1="334.83" y1="331.18" x2="334.83" y2="338.38" stroke="#ff0000" stroke-width="1.1"/>
<line x1="333.43" y1="331.18" x2="336.23" y2="331.18" stroke="#ff0000" stroke-width="1.1"/>
<line x1="333.43" y1="338.38" x2="336.23" y2="338.38" stroke="#ff0000" stroke-width="1.1"/>
<circle cx="334.28" cy="331.68" r="1" fill="#ff0000"/>
<circle cx="335.03" cy="333" r="1" fill="#ff0000"/>
<circle cx="334.75" cy="337.82" r="1" fill="#ff0000"/>
<circle cx="335.75" cy="334.98" r="1" fill="#ff0000"/>
<circle cx="334.78" cy="330.18" r="1" fill="#ff0000"/>
<circle cx="334.3" cy="328.89" r="1" fill="#ff0000"/>
<circle cx="335.24" cy="334.94" r="1" fill="#ff0000"/>
<line x1="325.53" y1="294.7" x2="334.53" y2="294.7" stroke="#333" stroke-width="0.9"/>
<text x="330.03" y="292.9" font-size="8.8" text-anchor="middle">***</text>
<line x1="353.94" y1="350.4" x2="353.94" y2="354.8" stroke="#1a1a1a" stroke-width="1"/>
<text transform="translate(355.34 358.2) rotate(-45)" font-size="7.2" font-style="italic" text-anchor="end">Ccl2</text>
<circle cx="345.04" cy="349.5" r="0.95" fill="#b400e6"/>
<circle cx="345.94" cy="349.5" r="0.95" fill="#b400e6"/>
<circle cx="346.84" cy="349.5" r="0.95" fill="#b400e6"/>
<circle cx="347.74" cy="349.5" r="0.95" fill="#b400e6"/>
<circle cx="348.64" cy="349.5" r="0.95" fill="#b400e6"/>
<path d="M351.5 350.4V318.5H356.5V350.4" fill="#fff" stroke="#1a1a1a" stroke-width="1"/>
<line x1="354.14" y1="312.9" x2="354.14" y2="323.9" stroke="#2000ff" stroke-width="1.1"/>
<line x1="352.74" y1="312.9" x2="355.54" y2="312.9" stroke="#2000ff" stroke-width="1.1"/>
<line x1="352.74" y1="323.9" x2="355.54" y2="323.9" stroke="#2000ff" stroke-width="1.1"/>
<circle cx="353.79" cy="326.65" r="1" fill="#2000ff"/>
<circle cx="354.45" cy="324.8" r="1" fill="#2000ff"/>
<circle cx="354" cy="319.28" r="1" fill="#2000ff"/>
<circle cx="354.91" cy="318.03" r="1" fill="#2000ff"/>
<circle cx="353.65" cy="326.55" r="1" fill="#2000ff"/>
<circle cx="354" cy="323.28" r="1" fill="#2000ff"/>
<circle cx="354.47" cy="319.46" r="1" fill="#2000ff"/>
<path d="M358.5 350.4V340.5H363.5V350.4" fill="#fff" stroke="#1a1a1a" stroke-width="1"/>
<line x1="361.24" y1="336.39" x2="361.24" y2="345.59" stroke="#ff0000" stroke-width="1.1"/>
<line x1="359.84" y1="336.39" x2="362.64" y2="336.39" stroke="#ff0000" stroke-width="1.1"/>
<line x1="359.84" y1="345.59" x2="362.64" y2="345.59" stroke="#ff0000" stroke-width="1.1"/>
<circle cx="361.72" cy="343.62" r="1" fill="#ff0000"/>
<circle cx="361.25" cy="347.89" r="1" fill="#ff0000"/>
<circle cx="360.86" cy="344.37" r="1" fill="#ff0000"/>
<circle cx="361.88" cy="347.89" r="1" fill="#ff0000"/>
<circle cx="361.76" cy="341.38" r="1" fill="#ff0000"/>
<circle cx="360.83" cy="344.22" r="1" fill="#ff0000"/>
<circle cx="360.61" cy="346.13" r="1" fill="#ff0000"/>
<line x1="351.94" y1="305.6" x2="360.94" y2="305.6" stroke="#333" stroke-width="0.9"/>
<text x="356.44" y="303.8" font-size="8.8" text-anchor="middle">***</text>
<line x1="380.35" y1="350.4" x2="380.35" y2="354.8" stroke="#1a1a1a" stroke-width="1"/>
<text transform="translate(381.75 358.2) rotate(-45)" font-size="7.2" font-style="italic" text-anchor="end">Ccl3</text>
<circle cx="371.45" cy="349.5" r="0.95" fill="#b400e6"/>
<circle cx="372.35" cy="349.5" r="0.95" fill="#b400e6"/>
<circle cx="373.25" cy="349.5" r="0.95" fill="#b400e6"/>
<circle cx="374.15" cy="349.5" r="0.95" fill="#b400e6"/>
<circle cx="375.05" cy="349.5" r="0.95" fill="#b400e6"/>
<path d="M378.5 350.4V327.5H383.5V350.4" fill="#fff" stroke="#1a1a1a" stroke-width="1"/>
<line x1="380.55" y1="320.81" x2="380.55" y2="333.81" stroke="#2000ff" stroke-width="1.1"/>
<line x1="379.15" y1="320.81" x2="381.95" y2="320.81" stroke="#2000ff" stroke-width="1.1"/>
<line x1="379.15" y1="333.81" x2="381.95" y2="333.81" stroke="#2000ff" stroke-width="1.1"/>
<circle cx="380.05" cy="325.05" r="1" fill="#2000ff"/>
<circle cx="381.36" cy="318.97" r="1" fill="#2000ff"/>
<circle cx="379.91" cy="332.1" r="1" fill="#2000ff"/>
<circle cx="381.4" cy="323.78" r="1" fill="#2000ff"/>
<circle cx="379.91" cy="330.1" r="1" fill="#2000ff"/>
<circle cx="380.36" cy="329.48" r="1" fill="#2000ff"/>
<circle cx="381.27" cy="328.04" r="1" fill="#2000ff"/>
<path d="M385.5 350.4V346.5H390.5V350.4" fill="#fff" stroke="#1a1a1a" stroke-width="1"/>
<line x1="387.65" y1="344.72" x2="387.65" y2="347.92" stroke="#ff0000" stroke-width="1.1"/>
<line x1="386.25" y1="344.72" x2="389.05" y2="344.72" stroke="#ff0000" stroke-width="1.1"/>
<line x1="386.25" y1="347.92" x2="389.05" y2="347.92" stroke="#ff0000" stroke-width="1.1"/>
<circle cx="388.65" cy="348.26" r="1" fill="#ff0000"/>
<circle cx="388.51" cy="344.59" r="1" fill="#ff0000"/>
<circle cx="388.52" cy="345.83" r="1" fill="#ff0000"/>
<circle cx="388.14" cy="347.22" r="1" fill="#ff0000"/>
<circle cx="387.41" cy="348.64" r="1" fill="#ff0000"/>
<circle cx="387.4" cy="346.79" r="1" fill="#ff0000"/>
<circle cx="386.66" cy="345.84" r="1" fill="#ff0000"/>
<line x1="378.35" y1="312.6" x2="387.35" y2="312.6" stroke="#333" stroke-width="0.9"/>
<text x="382.85" y="310.8" font-size="8.8" text-anchor="middle">***</text>
<line x1="406.76" y1="350.4" x2="406.76" y2="354.8" stroke="#1a1a1a" stroke-width="1"/>
<text transform="translate(408.16 358.2) rotate(-45)" font-size="7.2" font-style="italic" text-anchor="end">Ccl5</text>
<circle cx="397.86" cy="349.5" r="0.95" fill="#b400e6"/>
<circle cx="398.76" cy="349.5" r="0.95" fill="#b400e6"/>
<circle cx="399.66" cy="349.5" r="0.95" fill="#b400e6"/>
<circle cx="400.56" cy="349.5" r="0.95" fill="#b400e6"/>
<circle cx="401.46" cy="349.5" r="0.95" fill="#b400e6"/>
<path d="M404.5 350.4V310.5H409.5V350.4" fill="#fff" stroke="#1a1a1a" stroke-width="1"/>
<line x1="406.96" y1="304.24" x2="406.96" y2="316.24" stroke="#2000ff" stroke-width="1.1"/>
<line x1="405.56" y1="304.24" x2="408.36" y2="304.24" stroke="#2000ff" stroke-width="1.1"/>
<line x1="405.56" y1="316.24" x2="408.36" y2="316.24" stroke="#2000ff" stroke-width="1.1"/>
<circle cx="406.56" cy="313.42" r="1" fill="#2000ff"/>
<circle cx="406.28" cy="301.33" r="1" fill="#2000ff"/>
<circle cx="407.8" cy="319.24" r="1" fill="#2000ff"/>
<circle cx="407.54" cy="311.73" r="1" fill="#2000ff"/>
<circle cx="407.54" cy="315.67" r="1" fill="#2000ff"/>
<circle cx="406.91" cy="308.5" r="1" fill="#2000ff"/>
<circle cx="406.73" cy="311.03" r="1" fill="#2000ff"/>
<path d="M411.5 350.4V338.5H416.5V350.4" fill="#fff" stroke="#1a1a1a" stroke-width="1"/>
<line x1="414.06" y1="334.59" x2="414.06" y2="342.99" stroke="#ff0000" stroke-width="1.1"/>
<line x1="412.66" y1="334.59" x2="415.46" y2="334.59" stroke="#ff0000" stroke-width="1.1"/>
<line x1="412.66" y1="342.99" x2="415.46" y2="342.99" stroke="#ff0000" stroke-width="1.1"/>
<circle cx="413.79" cy="341.2" r="1" fill="#ff0000"/>
<circle cx="414.85" cy="337.46" r="1" fill="#ff0000"/>
<circle cx="414.68" cy="343.03" r="1" fill="#ff0000"/>
<circle cx="414.59" cy="339.61" r="1" fill="#ff0000"/>
<circle cx="413.19" cy="339.87" r="1" fill="#ff0000"/>
<circle cx="414.9" cy="339.07" r="1" fill="#ff0000"/>
<circle cx="414.86" cy="338.48" r="1" fill="#ff0000"/>
<line x1="404.76" y1="296.5" x2="413.76" y2="296.5" stroke="#333" stroke-width="0.9"/>
<text x="409.26" y="294.7" font-size="8.8" text-anchor="middle">***</text>
<line x1="433.17" y1="350.4" x2="433.17" y2="354.8" stroke="#1a1a1a" stroke-width="1"/>
<text transform="translate(434.57 358.2) rotate(-45)" font-size="7.2" font-style="italic" text-anchor="end">Ccl7</text>
<circle cx="424.27" cy="349.5" r="0.95" fill="#b400e6"/>
<circle cx="425.17" cy="349.5" r="0.95" fill="#b400e6"/>
<circle cx="426.07" cy="349.5" r="0.95" fill="#b400e6"/>
<circle cx="426.97" cy="349.5" r="0.95" fill="#b400e6"/>
<circle cx="427.87" cy="349.5" r="0.95" fill="#b400e6"/>
<path d="M430.5 350.4V326.5H435.5V350.4" fill="#fff" stroke="#1a1a1a" stroke-width="1"/>
<line x1="433.37" y1="318.24" x2="433.37" y2="334.24" stroke="#2000ff" stroke-width="1.1"/>
<line x1="431.97" y1="318.24" x2="434.77" y2="318.24" stroke="#2000ff" stroke-width="1.1"/>
<line x1="431.97" y1="334.24" x2="434.77" y2="334.24" stroke="#2000ff" stroke-width="1.1"/>
<circle cx="433.08" cy="338.24" r="1" fill="#2000ff"/>
<circle cx="433.58" cy="323.43" r="1" fill="#2000ff"/>
<circle cx="432.94" cy="338.24" r="1" fill="#2000ff"/>
<circle cx="432.97" cy="324.79" r="1" fill="#2000ff"/>
<circle cx="432.48" cy="319.42" r="1" fill="#2000ff"/>
<circle cx="433.61" cy="326.87" r="1" fill="#2000ff"/>
<circle cx="434.17" cy="312.64" r="1" fill="#2000ff"/>
<path d="M437.5 350.4V343.5H442.5V350.4" fill="#fff" stroke="#1a1a1a" stroke-width="1"/>
<line x1="440.47" y1="340.51" x2="440.47" y2="346.11" stroke="#ff0000" stroke-width="1.1"/>
<line x1="439.07" y1="340.51" x2="441.87" y2="340.51" stroke="#ff0000" stroke-width="1.1"/>
<line x1="439.07" y1="346.11" x2="441.87" y2="346.11" stroke="#ff0000" stroke-width="1.1"/>
<circle cx="440.42" cy="345.33" r="1" fill="#ff0000"/>
<circle cx="441.38" cy="343.62" r="1" fill="#ff0000"/>
<circle cx="439.97" cy="345.96" r="1" fill="#ff0000"/>
<circle cx="440.33" cy="342.52" r="1" fill="#ff0000"/>
<circle cx="439.84" cy="338.55" r="1" fill="#ff0000"/>
<circle cx="441.08" cy="343.57" r="1" fill="#ff0000"/>
<circle cx="441.02" cy="342.93" r="1" fill="#ff0000"/>
<line x1="431.17" y1="308.2" x2="440.17" y2="308.2" stroke="#333" stroke-width="0.9"/>
<text x="435.67" y="306.4" font-size="8.8" text-anchor="middle">***</text>
<line x1="459.58" y1="350.4" x2="459.58" y2="354.8" stroke="#1a1a1a" stroke-width="1"/>
<text transform="translate(460.98 358.2) rotate(-45)" font-size="7.2" font-style="italic" text-anchor="end">Ccl12</text>
<circle cx="450.68" cy="349.5" r="0.95" fill="#b400e6"/>
<circle cx="451.58" cy="349.5" r="0.95" fill="#b400e6"/>
<circle cx="452.48" cy="349.5" r="0.95" fill="#b400e6"/>
<circle cx="453.38" cy="349.5" r="0.95" fill="#b400e6"/>
<circle cx="454.28" cy="349.5" r="0.95" fill="#b400e6"/>
<path d="M457.5 350.4V325.5H462.5V350.4" fill="#fff" stroke="#1a1a1a" stroke-width="1"/>
<line x1="459.78" y1="319.3" x2="459.78" y2="331.3" stroke="#2000ff" stroke-width="1.1"/>
<line x1="458.38" y1="319.3" x2="461.18" y2="319.3" stroke="#2000ff" stroke-width="1.1"/>
<line x1="458.38" y1="331.3" x2="461.18" y2="331.3" stroke="#2000ff" stroke-width="1.1"/>
<circle cx="459.97" cy="315.1" r="1" fill="#2000ff"/>
<circle cx="459.53" cy="322.83" r="1" fill="#2000ff"/>
<circle cx="460.29" cy="329.95" r="1" fill="#2000ff"/>
<circle cx="460.24" cy="328.8" r="1" fill="#2000ff"/>
<circle cx="459.33" cy="327.19" r="1" fill="#2000ff"/>
<circle cx="459.87" cy="326.75" r="1" fill="#2000ff"/>
<circle cx="459.47" cy="325.92" r="1" fill="#2000ff"/>
<path d="M464.5 350.4V344.5H469.5V350.4" fill="#fff" stroke="#1a1a1a" stroke-width="1"/>
<line x1="466.88" y1="342.51" x2="466.88" y2="346.11" stroke="#ff0000" stroke-width="1.1"/>
<line x1="465.48" y1="342.51" x2="468.28" y2="342.51" stroke="#ff0000" stroke-width="1.1"/>
<line x1="465.48" y1="346.11" x2="468.28" y2="346.11" stroke="#ff0000" stroke-width="1.1"/>
<circle cx="467.86" cy="347.01" r="1" fill="#ff0000"/>
<circle cx="466.41" cy="343.85" r="1" fill="#ff0000"/>
<circle cx="466.88" cy="345.01" r="1" fill="#ff0000"/>
<circle cx="467.3" cy="344.72" r="1" fill="#ff0000"/>
<circle cx="466.71" cy="343.07" r="1" fill="#ff0000"/>
<circle cx="467.12" cy="344.74" r="1" fill="#ff0000"/>
<circle cx="467.57" cy="342.94" r="1" fill="#ff0000"/>
<line x1="457.58" y1="310.6" x2="466.58" y2="310.6" stroke="#333" stroke-width="0.9"/>
<text x="462.08" y="308.8" font-size="8.8" text-anchor="middle">***</text>
<line x1="485.99" y1="350.4" x2="485.99" y2="354.8" stroke="#1a1a1a" stroke-width="1"/>
<text transform="translate(487.39 358.2) rotate(-45)" font-size="7.2" font-style="italic" text-anchor="end">Cxcl2</text>
<circle cx="477.09" cy="349.5" r="0.95" fill="#b400e6"/>
<circle cx="477.99" cy="349.5" r="0.95" fill="#b400e6"/>
<circle cx="478.89" cy="349.5" r="0.95" fill="#b400e6"/>
<circle cx="479.79" cy="349.5" r="0.95" fill="#b400e6"/>
<circle cx="480.69" cy="349.5" r="0.95" fill="#b400e6"/>
<path d="M483.5 350.4V306.5H488.5V350.4" fill="#fff" stroke="#1a1a1a" stroke-width="1"/>
<line x1="486.19" y1="298.1" x2="486.19" y2="315.1" stroke="#2000ff" stroke-width="1.1"/>
<line x1="484.79" y1="298.1" x2="487.59" y2="298.1" stroke="#2000ff" stroke-width="1.1"/>
<line x1="484.79" y1="315.1" x2="487.59" y2="315.1" stroke="#2000ff" stroke-width="1.1"/>
<circle cx="486.49" cy="294.5" r="1" fill="#2000ff"/>
<circle cx="485.82" cy="318.4" r="1" fill="#2000ff"/>
<circle cx="486.31" cy="317.84" r="1" fill="#2000ff"/>
<circle cx="485.65" cy="296.89" r="1" fill="#2000ff"/>
<circle cx="485.74" cy="316.56" r="1" fill="#2000ff"/>
<circle cx="486.88" cy="306.74" r="1" fill="#2000ff"/>
<circle cx="486.33" cy="311.5" r="1" fill="#2000ff"/>
<path d="M490.5 350.4V339.5H495.5V350.4" fill="#fff" stroke="#1a1a1a" stroke-width="1"/>
<line x1="493.29" y1="336.69" x2="493.29" y2="341.89" stroke="#ff0000" stroke-width="1.1"/>
<line x1="491.89" y1="336.69" x2="494.69" y2="336.69" stroke="#ff0000" stroke-width="1.1"/>
<line x1="491.89" y1="341.89" x2="494.69" y2="341.89" stroke="#ff0000" stroke-width="1.1"/>
<circle cx="494.27" cy="338.09" r="1" fill="#ff0000"/>
<circle cx="493.3" cy="341.61" r="1" fill="#ff0000"/>
<circle cx="493.6" cy="339.84" r="1" fill="#ff0000"/>
<circle cx="494.27" cy="343.19" r="1" fill="#ff0000"/>
<circle cx="493.93" cy="341.65" r="1" fill="#ff0000"/>
<circle cx="493.97" cy="341.06" r="1" fill="#ff0000"/>
<circle cx="492.88" cy="339.93" r="1" fill="#ff0000"/>
<line x1="483.99" y1="291.3" x2="492.99" y2="291.3" stroke="#333" stroke-width="0.9"/>
<text x="488.49" y="289.5" font-size="8.8" text-anchor="middle">***</text>
<line x1="512.4" y1="350.4" x2="512.4" y2="354.8" stroke="#1a1a1a" stroke-width="1"/>
<text transform="translate(513.8 358.2) rotate(-45)" font-size="7.2" font-style="italic" text-anchor="end">Cxcl10</text>
<circle cx="503.5" cy="349.5" r="0.95" fill="#b400e6"/>
<circle cx="504.4" cy="349.5" r="0.95" fill="#b400e6"/>
<circle cx="505.3" cy="349.5" r="0.95" fill="#b400e6"/>
<circle cx="506.2" cy="349.5" r="0.95" fill="#b400e6"/>
<circle cx="507.1" cy="349.5" r="0.95" fill="#b400e6"/>
<path d="M510.5 350.4V319.5H515.5V350.4" fill="#fff" stroke="#1a1a1a" stroke-width="1"/>
<line x1="512.6" y1="314.71" x2="512.6" y2="323.71" stroke="#2000ff" stroke-width="1.1"/>
<line x1="511.2" y1="314.71" x2="514" y2="314.71" stroke="#2000ff" stroke-width="1.1"/>
<line x1="511.2" y1="323.71" x2="514" y2="323.71" stroke="#2000ff" stroke-width="1.1"/>
<circle cx="511.91" cy="318.55" r="1" fill="#2000ff"/>
<circle cx="512.75" cy="323.69" r="1" fill="#2000ff"/>
<circle cx="513.37" cy="325.96" r="1" fill="#2000ff"/>
<circle cx="512.51" cy="312.94" r="1" fill="#2000ff"/>
<circle cx="512.17" cy="325.7" r="1" fill="#2000ff"/>
<circle cx="511.89" cy="321.1" r="1" fill="#2000ff"/>
<circle cx="512.77" cy="311.56" r="1" fill="#2000ff"/>
<path d="M517.5 350.4V339.5H522.5V350.4" fill="#fff" stroke="#1a1a1a" stroke-width="1"/>
<line x1="519.7" y1="333.79" x2="519.7" y2="344.79" stroke="#ff0000" stroke-width="1.1"/>
<line x1="518.3" y1="333.79" x2="521.1" y2="333.79" stroke="#ff0000" stroke-width="1.1"/>
<line x1="518.3" y1="344.79" x2="521.1" y2="344.79" stroke="#ff0000" stroke-width="1.1"/>
<circle cx="519.44" cy="336.48" r="1" fill="#ff0000"/>
<circle cx="518.98" cy="336.66" r="1" fill="#ff0000"/>
<circle cx="519.9" cy="340.5" r="1" fill="#ff0000"/>
<circle cx="520" cy="343.34" r="1" fill="#ff0000"/>
<circle cx="519.35" cy="339.53" r="1" fill="#ff0000"/>
<circle cx="520.06" cy="340.09" r="1" fill="#ff0000"/>
<circle cx="519.11" cy="341.18" r="1" fill="#ff0000"/>
<line x1="510.4" y1="307.4" x2="519.4" y2="307.4" stroke="#333" stroke-width="0.9"/>
<text x="514.9" y="305.6" font-size="8.8" text-anchor="middle">***</text>
<line x1="231.2" y1="350.4" x2="525.8" y2="350.4" stroke="#1a1a1a" stroke-width="1"/>
<line x1="235.8" y1="274.7" x2="235.8" y2="350.9" stroke="#1a1a1a" stroke-width="1"/>
<line x1="231.6" y1="275.2" x2="235.8" y2="275.2" stroke="#1a1a1a" stroke-width="1"/>
<text x="228.2" y="277.95" font-size="6.8" text-anchor="end">120</text>
<line x1="231.6" y1="300.2" x2="235.8" y2="300.2" stroke="#1a1a1a" stroke-width="1"/>
<text x="228.2" y="302.65" font-size="6.8" text-anchor="end">80</text>
<line x1="231.6" y1="325.3" x2="235.8" y2="325.3" stroke="#1a1a1a" stroke-width="1"/>
<text x="228.2" y="327.75" font-size="6.8" text-anchor="end">40</text>
<line x1="231.6" y1="350.4" x2="235.8" y2="350.4" stroke="#1a1a1a" stroke-width="1"/>
<text x="228.2" y="352.05" font-size="6.8" text-anchor="end">0</text>
<text transform="translate(213 312.2) rotate(-90)" font-size="6.7" text-anchor="middle" textLength="62.5" lengthAdjust="spacingAndGlyphs">Relative mRNA level</text>
<circle cx="241.2" cy="275.1" r="2.25" fill="#b400e6"/>
<text x="247.6" y="277.3" font-size="6.8">Control</text>
<circle cx="277.4" cy="275.1" r="2.25" fill="#2000ff"/>
<text x="282.4" y="277.3" font-size="6.8" font-style="italic">Abhd16a<tspan dy="-2.86" font-size="4.49">+/+</tspan></text>
<circle cx="324.6" cy="275.1" r="2.25" fill="#ff0000"/>
<text x="329.9" y="277.3" font-size="6.8" font-style="italic">Abhd16a<tspan dy="-2.86" font-size="4.49">-/-</tspan></text>
</g>
<g>
<text x="0.4" y="401.2" font-size="12.4">I</text>
<path d="M67.5 482.3V447.5H76.5V482.3" fill="#fff" stroke="#1a1a1a" stroke-width="1"/>
<path d="M82.5 482.3V470.5H92.5V482.3" fill="#fff" stroke="#1a1a1a" stroke-width="1"/>
<line x1="72" y1="437.62" x2="72" y2="456.82" stroke="#111" stroke-width="0.9"/>
<line x1="69.8" y1="437.62" x2="74.2" y2="437.62" stroke="#111" stroke-width="0.9"/>
<line x1="69.8" y1="456.82" x2="74.2" y2="456.82" stroke="#111" stroke-width="0.9"/>
<circle cx="71.9" cy="433.8" r="1.75" fill="#000"/>
<circle cx="68.8" cy="448.2" r="1.75" fill="#000"/>
<circle cx="75.3" cy="448.2" r="1.75" fill="#000"/>
<circle cx="71.9" cy="455.6" r="1.75" fill="#000"/>
<circle cx="83.6" cy="470.5" r="1.65" fill="#000"/>
<circle cx="85.9" cy="470" r="1.65" fill="#000"/>
<circle cx="88.3" cy="470" r="1.65" fill="#000"/>
<circle cx="90.6" cy="470" r="1.65" fill="#000"/>
<circle cx="53.2" cy="480.6" r="1.65" fill="#000"/>
<circle cx="55.4" cy="479.8" r="1.65" fill="#000"/>
<circle cx="57.7" cy="480.6" r="1.65" fill="#000"/>
<circle cx="59.9" cy="479.8" r="1.65" fill="#000"/>
<line x1="56.6" y1="482.3" x2="56.6" y2="486.7" stroke="#1a1a1a" stroke-width="1"/>
<text transform="translate(58.8 490.7) rotate(-45)" font-size="7.2" text-anchor="end">Control</text>
<line x1="71.7" y1="482.3" x2="71.7" y2="486.7" stroke="#1a1a1a" stroke-width="1"/>
<text transform="translate(73.9 490.7) rotate(-45)" font-size="7.2" font-style="italic" text-anchor="end">Abhd16a<tspan dy="-2.86" font-size="4.49">+/+</tspan></text>
<line x1="86.7" y1="482.3" x2="86.7" y2="486.7" stroke="#1a1a1a" stroke-width="1"/>
<text transform="translate(88.9 490.7) rotate(-45)" font-size="7.2" font-style="italic" text-anchor="end">Abhd16a<tspan dy="-2.86" font-size="4.49">-/-</tspan></text>
<line x1="45.6" y1="482.3" x2="94.8" y2="482.3" stroke="#1a1a1a" stroke-width="1"/>
<line x1="49.6" y1="406.8" x2="49.6" y2="482.8" stroke="#1a1a1a" stroke-width="1"/>
<line x1="45.4" y1="407.3" x2="49.6" y2="407.3" stroke="#1a1a1a" stroke-width="1"/>
<text x="41.2" y="410.05" font-size="6.8" text-anchor="end">900</text>
<line x1="45.4" y1="432.3" x2="49.6" y2="432.3" stroke="#1a1a1a" stroke-width="1"/>
<text x="41.2" y="434.75" font-size="6.8" text-anchor="end">600</text>
<line x1="45.4" y1="457.3" x2="49.6" y2="457.3" stroke="#1a1a1a" stroke-width="1"/>
<text x="41.2" y="459.75" font-size="6.8" text-anchor="end">300</text>
<line x1="45.4" y1="482.3" x2="49.6" y2="482.3" stroke="#1a1a1a" stroke-width="1"/>
<text x="41.2" y="484.15" font-size="6.8" text-anchor="end">0</text>
<line x1="72.3" y1="425.1" x2="86.7" y2="425.1" stroke="#666" stroke-width="0.9"/>
<text x="79.5" y="423.3" font-size="8.8" text-anchor="middle">**</text>
<text transform="translate(24.5 442.5) rotate(-90)" font-size="6.7" text-anchor="middle" textLength="35" lengthAdjust="spacingAndGlyphs">IL-6 (pg/ml)</text>
</g>
<g>
<text x="105.8" y="401.2" font-size="12.4">J</text>
<path d="M153.5 482V475.5H163.5V482" fill="#fff" stroke="#1a1a1a" stroke-width="1"/>
<path d="M168.5 482V431.5H178.5V482" fill="#fff" stroke="#1a1a1a" stroke-width="1"/>
<path d="M184.5 482V468.5H194.5V482" fill="#fff" stroke="#1a1a1a" stroke-width="1"/>
<line x1="173.8" y1="427.6" x2="173.8" y2="434.8" stroke="#111" stroke-width="0.9"/>
<line x1="171.6" y1="427.6" x2="176" y2="427.6" stroke="#111" stroke-width="0.9"/>
<line x1="171.6" y1="434.8" x2="176" y2="434.8" stroke="#111" stroke-width="0.9"/>
<line x1="189" y1="465.12" x2="189" y2="471.92" stroke="#111" stroke-width="0.9"/>
<line x1="186.8" y1="465.12" x2="191.2" y2="465.12" stroke="#111" stroke-width="0.9"/>
<line x1="186.8" y1="471.92" x2="191.2" y2="471.92" stroke="#111" stroke-width="0.9"/>
<circle cx="155.4" cy="475.2" r="1.65" fill="#000"/>
<circle cx="157.6" cy="475.2" r="1.65" fill="#000"/>
<circle cx="159.8" cy="475.2" r="1.65" fill="#000"/>
<circle cx="162" cy="475.2" r="1.65" fill="#000"/>
<circle cx="170.4" cy="428.2" r="1.75" fill="#000"/>
<circle cx="176.6" cy="427.2" r="1.75" fill="#000"/>
<circle cx="172.2" cy="432" r="1.75" fill="#000"/>
<circle cx="174.6" cy="435.6" r="1.75" fill="#000"/>
<circle cx="189" cy="463.6" r="1.75" fill="#000"/>
<circle cx="186.2" cy="468.8" r="1.75" fill="#000"/>
<circle cx="191.6" cy="468.4" r="1.75" fill="#000"/>
<circle cx="189.4" cy="470.2" r="1.75" fill="#000"/>
<line x1="158.6" y1="482" x2="158.6" y2="486.4" stroke="#1a1a1a" stroke-width="1"/>
<text transform="translate(160.8 490.4) rotate(-45)" font-size="7.2" text-anchor="end">Control</text>
<line x1="173.7" y1="482" x2="173.7" y2="486.4" stroke="#1a1a1a" stroke-width="1"/>
<text transform="translate(175.9 490.4) rotate(-45)" font-size="7.2" font-style="italic" text-anchor="end">Abhd16a<tspan dy="-2.86" font-size="4.49">+/+</tspan></text>
<line x1="189" y1="482" x2="189" y2="486.4" stroke="#1a1a1a" stroke-width="1"/>
<text transform="translate(191.2 490.4) rotate(-45)" font-size="7.2" font-style="italic" text-anchor="end">Abhd16a<tspan dy="-2.86" font-size="4.49">-/-</tspan></text>
<line x1="147.2" y1="482" x2="196.8" y2="482" stroke="#1a1a1a" stroke-width="1"/>
<line x1="151.6" y1="406.2" x2="151.6" y2="482.5" stroke="#1a1a1a" stroke-width="1"/>
<line x1="147.4" y1="406.7" x2="151.6" y2="406.7" stroke="#1a1a1a" stroke-width="1"/>
<text x="142.8" y="409.75" font-size="6.8" text-anchor="end">750</text>
<line x1="147.4" y1="431.8" x2="151.6" y2="431.8" stroke="#1a1a1a" stroke-width="1"/>
<text x="142.8" y="434.25" font-size="6.8" text-anchor="end">500</text>
<line x1="147.4" y1="456.4" x2="151.6" y2="456.4" stroke="#1a1a1a" stroke-width="1"/>
<text x="142.8" y="458.85" font-size="6.8" text-anchor="end">250</text>
<line x1="147.4" y1="482" x2="151.6" y2="482" stroke="#1a1a1a" stroke-width="1"/>
<text x="142.8" y="483.65" font-size="6.8" text-anchor="end">0</text>
<line x1="173.7" y1="420.7" x2="189" y2="420.7" stroke="#444" stroke-width="0.9"/>
<text x="181.35" y="418.3" font-size="8.8" text-anchor="middle">***</text>
<text transform="translate(125.1 443.7) rotate(-90)" font-size="6.7" text-anchor="middle" textLength="43.4" lengthAdjust="spacingAndGlyphs">TNF-α (pg/ml)</text>
</g>
<g>
<text x="208.2" y="401.2" font-size="12.4">K</text>
<defs><filter id="bl" x="-20%" y="-100%" width="140%" height="300%"><feGaussianBlur stdDeviation="1.15 0.85"/></filter><filter id="bl2" x="-30%" y="-150%" width="160%" height="400%"><feGaussianBlur stdDeviation="2 1.6"/></filter></defs>
<rect x="252.6" y="439.2" width="64.4" height="21.1" fill="#f4f4f4" stroke="#111" stroke-width="1.25"/>
<rect x="252.6" y="463.3" width="64.4" height="21.1" fill="#f0f0f0" stroke="#111" stroke-width="1.25"/>
<rect x="275" y="447.2" width="14" height="5.4" rx="2" fill="#bdbdbd" filter="url(#bl2)"/>
<g filter="url(#bl)"><rect x="275.6" y="447.9" width="12.8" height="3.6" rx="1.6" fill="#060606"/><rect x="292" y="449.0" width="9" height="1.5" rx="0.7" fill="#e4e4e4"/><ellipse cx="263.4" cy="475.7" rx="9.4" ry="1.45" fill="#3c3c3c"/><ellipse cx="285.1" cy="475.7" rx="9.1" ry="1.45" fill="#3c3c3c"/><ellipse cx="306.3" cy="475.7" rx="9.3" ry="1.45" fill="#303030"/></g>
<text x="244.8" y="452.5" font-size="6.7" text-anchor="end">Pro-IL-1β</text>
<text x="245.4" y="477" font-size="6.7" text-anchor="end">β-actin</text>
<text x="319.7" y="434.4" font-size="6.7">(kDa)</text>
<line x1="317.4" y1="453.6" x2="319.9" y2="453.6" stroke="#333" stroke-width="0.8"/>
<line x1="317.4" y1="478.7" x2="322" y2="478.7" stroke="#666" stroke-width="0.8"/>
<text x="324.7" y="455.2" font-size="6.7">35</text>
<text x="324.7" y="480.3" font-size="6.7">40</text>
<text transform="translate(262.4 435.6) rotate(-45)" font-size="7.1">Control</text>
<text transform="translate(285 435.6) rotate(-45)" font-size="7.1" font-style="italic">Abhd16a<tspan dy="-2.98" font-size="4.69">+/+</tspan></text>
<text transform="translate(303.4 436.6) rotate(-45)" font-size="7.1" font-style="italic">Abhd16a<tspan dy="-2.98" font-size="4.69">-/-</tspan></text>
</g>
</svg>
</body>
</html>
